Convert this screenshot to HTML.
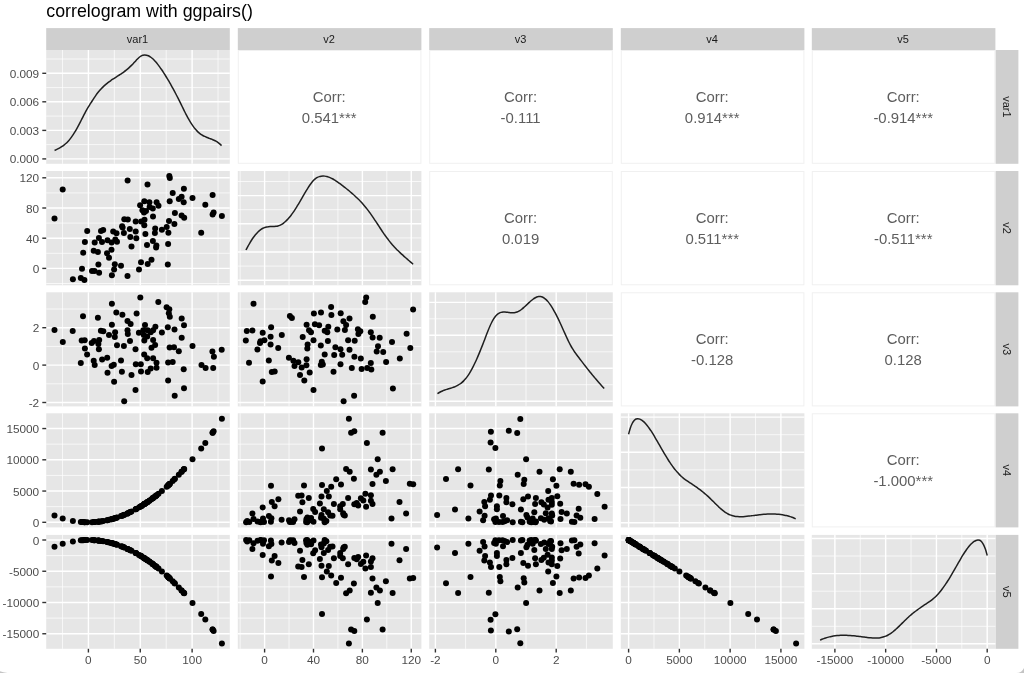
<!DOCTYPE html>
<html lang="en"><head><meta charset="utf-8"><title>correlogram with ggpairs()</title>
<style>html,body{margin:0;padding:0;background:#fff;}svg{display:block;}</style></head>
<body>
<svg width="1024" height="673" viewBox="0 0 1024 673" font-family="'Liberation Sans', Arial, Helvetica, sans-serif">
<rect width="1024" height="673" fill="#ffffff"/>
<path d="M1024 673 L1024 668 A8.5 8.5 0 0 1 1016.5 673 Z" fill="#c4c4c4"/>
<path d="M0 673 L0 671.2 Q3 672.5 7.5 673 Z" fill="#c4c4c4"/>
<text x="46.3" y="17.2" font-size="17.8" fill="#000">correlogram with ggpairs()</text>
<rect x="46.20" y="28.1" width="183.6" height="21.90" fill="#cfcfcf"/>
<text x="137.50" y="43.0" font-size="11.0" fill="#1a1a1a" text-anchor="middle">var1</text>
<rect x="237.80" y="28.1" width="183.6" height="21.90" fill="#cfcfcf"/>
<text x="329.10" y="43.0" font-size="11.0" fill="#1a1a1a" text-anchor="middle">v2</text>
<rect x="429.20" y="28.1" width="183.6" height="21.90" fill="#cfcfcf"/>
<text x="520.50" y="43.0" font-size="11.0" fill="#1a1a1a" text-anchor="middle">v3</text>
<rect x="620.80" y="28.1" width="183.6" height="21.90" fill="#cfcfcf"/>
<text x="712.10" y="43.0" font-size="11.0" fill="#1a1a1a" text-anchor="middle">v4</text>
<rect x="811.80" y="28.1" width="183.6" height="21.90" fill="#cfcfcf"/>
<text x="903.10" y="43.0" font-size="11.0" fill="#1a1a1a" text-anchor="middle">v5</text>
<rect x="995.5" y="50.0" width="22.90" height="113.80" fill="#cfcfcf"/>
<text transform="translate(1003.05,106.90) rotate(90)" font-size="11.0" fill="#1a1a1a" text-anchor="middle">var1</text>
<rect x="995.5" y="171.0" width="22.90" height="114.30" fill="#cfcfcf"/>
<text transform="translate(1003.05,228.15) rotate(90)" font-size="11.0" fill="#1a1a1a" text-anchor="middle">v2</text>
<rect x="995.5" y="292.3" width="22.90" height="114.10" fill="#cfcfcf"/>
<text transform="translate(1003.05,349.35) rotate(90)" font-size="11.0" fill="#1a1a1a" text-anchor="middle">v3</text>
<rect x="995.5" y="413.3" width="22.90" height="114.10" fill="#cfcfcf"/>
<text transform="translate(1003.05,470.35) rotate(90)" font-size="11.0" fill="#1a1a1a" text-anchor="middle">v4</text>
<rect x="995.5" y="534.9" width="22.90" height="113.90" fill="#cfcfcf"/>
<text transform="translate(1003.05,591.85) rotate(90)" font-size="11.0" fill="#1a1a1a" text-anchor="middle">v5</text>
<rect x="46.20" y="50.00" width="183.60" height="113.80" fill="#e6e6e6"/>
<g stroke="#ffffff"><line x1="62.47" y1="50.00" x2="62.47" y2="163.80" stroke-width="0.7"/><line x1="114.33" y1="50.00" x2="114.33" y2="163.80" stroke-width="0.7"/><line x1="166.19" y1="50.00" x2="166.19" y2="163.80" stroke-width="0.7"/><line x1="218.05" y1="50.00" x2="218.05" y2="163.80" stroke-width="0.7"/><line x1="46.20" y1="144.60" x2="229.80" y2="144.60" stroke-width="0.7"/><line x1="46.20" y1="116.10" x2="229.80" y2="116.10" stroke-width="0.7"/><line x1="46.20" y1="87.60" x2="229.80" y2="87.60" stroke-width="0.7"/><line x1="46.20" y1="59.00" x2="229.80" y2="59.00" stroke-width="0.7"/><line x1="88.40" y1="50.00" x2="88.40" y2="163.80" stroke-width="1.4"/><line x1="140.26" y1="50.00" x2="140.26" y2="163.80" stroke-width="1.4"/><line x1="192.12" y1="50.00" x2="192.12" y2="163.80" stroke-width="1.4"/><line x1="46.20" y1="158.90" x2="229.80" y2="158.90" stroke-width="1.4"/><line x1="46.20" y1="130.40" x2="229.80" y2="130.40" stroke-width="1.4"/><line x1="46.20" y1="101.80" x2="229.80" y2="101.80" stroke-width="1.4"/><line x1="46.20" y1="73.30" x2="229.80" y2="73.30" stroke-width="1.4"/></g>
<rect x="238.30" y="50.50" width="182.60" height="112.80" fill="#fff" stroke="#f0f0f0" stroke-width="1"/>
<text x="329.20" y="102.00" font-size="14.9" fill="#5e5e5e" text-anchor="middle">Corr:</text>
<text x="329.20" y="122.50" font-size="14.9" fill="#5e5e5e" text-anchor="middle">0.541***</text>
<rect x="429.70" y="50.50" width="182.60" height="112.80" fill="#fff" stroke="#f0f0f0" stroke-width="1"/>
<text x="520.60" y="102.00" font-size="14.9" fill="#5e5e5e" text-anchor="middle">Corr:</text>
<text x="520.60" y="122.50" font-size="14.9" fill="#5e5e5e" text-anchor="middle">-0.111</text>
<rect x="621.30" y="50.50" width="182.60" height="112.80" fill="#fff" stroke="#f0f0f0" stroke-width="1"/>
<text x="712.20" y="102.00" font-size="14.9" fill="#5e5e5e" text-anchor="middle">Corr:</text>
<text x="712.20" y="122.50" font-size="14.9" fill="#5e5e5e" text-anchor="middle">0.914***</text>
<rect x="812.30" y="50.50" width="182.60" height="112.80" fill="#fff" stroke="#f0f0f0" stroke-width="1"/>
<text x="903.20" y="102.00" font-size="14.9" fill="#5e5e5e" text-anchor="middle">Corr:</text>
<text x="903.20" y="122.50" font-size="14.9" fill="#5e5e5e" text-anchor="middle">-0.914***</text>
<rect x="46.20" y="171.00" width="183.60" height="114.30" fill="#e6e6e6"/>
<g stroke="#ffffff"><line x1="62.47" y1="171.00" x2="62.47" y2="285.30" stroke-width="0.7"/><line x1="114.33" y1="171.00" x2="114.33" y2="285.30" stroke-width="0.7"/><line x1="166.19" y1="171.00" x2="166.19" y2="285.30" stroke-width="0.7"/><line x1="218.05" y1="171.00" x2="218.05" y2="285.30" stroke-width="0.7"/><line x1="46.20" y1="283.50" x2="229.80" y2="283.50" stroke-width="0.7"/><line x1="46.20" y1="253.30" x2="229.80" y2="253.30" stroke-width="0.7"/><line x1="46.20" y1="223.10" x2="229.80" y2="223.10" stroke-width="0.7"/><line x1="46.20" y1="192.90" x2="229.80" y2="192.90" stroke-width="0.7"/><line x1="88.40" y1="171.00" x2="88.40" y2="285.30" stroke-width="1.4"/><line x1="140.26" y1="171.00" x2="140.26" y2="285.30" stroke-width="1.4"/><line x1="192.12" y1="171.00" x2="192.12" y2="285.30" stroke-width="1.4"/><line x1="46.20" y1="268.40" x2="229.80" y2="268.40" stroke-width="1.4"/><line x1="46.20" y1="238.20" x2="229.80" y2="238.20" stroke-width="1.4"/><line x1="46.20" y1="208.00" x2="229.80" y2="208.00" stroke-width="1.4"/><line x1="46.20" y1="177.80" x2="229.80" y2="177.80" stroke-width="1.4"/></g>
<rect x="237.80" y="171.00" width="183.60" height="114.30" fill="#e6e6e6"/>
<g stroke="#ffffff"><line x1="240.16" y1="171.00" x2="240.16" y2="285.30" stroke-width="0.7"/><line x1="289.04" y1="171.00" x2="289.04" y2="285.30" stroke-width="0.7"/><line x1="337.93" y1="171.00" x2="337.93" y2="285.30" stroke-width="0.7"/><line x1="386.82" y1="171.00" x2="386.82" y2="285.30" stroke-width="0.7"/><line x1="237.80" y1="181.50" x2="421.40" y2="181.50" stroke-width="0.7"/><line x1="237.80" y1="209.70" x2="421.40" y2="209.70" stroke-width="0.7"/><line x1="237.80" y1="237.90" x2="421.40" y2="237.90" stroke-width="0.7"/><line x1="237.80" y1="266.10" x2="421.40" y2="266.10" stroke-width="0.7"/><line x1="264.60" y1="171.00" x2="264.60" y2="285.30" stroke-width="1.4"/><line x1="313.49" y1="171.00" x2="313.49" y2="285.30" stroke-width="1.4"/><line x1="362.38" y1="171.00" x2="362.38" y2="285.30" stroke-width="1.4"/><line x1="411.26" y1="171.00" x2="411.26" y2="285.30" stroke-width="1.4"/><line x1="237.80" y1="195.60" x2="421.40" y2="195.60" stroke-width="1.4"/><line x1="237.80" y1="223.80" x2="421.40" y2="223.80" stroke-width="1.4"/><line x1="237.80" y1="252.00" x2="421.40" y2="252.00" stroke-width="1.4"/><line x1="237.80" y1="280.20" x2="421.40" y2="280.20" stroke-width="1.4"/></g>
<rect x="429.70" y="171.50" width="182.60" height="113.30" fill="#fff" stroke="#f0f0f0" stroke-width="1"/>
<text x="520.60" y="223.25" font-size="14.9" fill="#5e5e5e" text-anchor="middle">Corr:</text>
<text x="520.60" y="243.75" font-size="14.9" fill="#5e5e5e" text-anchor="middle">0.019</text>
<rect x="621.30" y="171.50" width="182.60" height="113.30" fill="#fff" stroke="#f0f0f0" stroke-width="1"/>
<text x="712.20" y="223.25" font-size="14.9" fill="#5e5e5e" text-anchor="middle">Corr:</text>
<text x="712.20" y="243.75" font-size="14.9" fill="#5e5e5e" text-anchor="middle">0.511***</text>
<rect x="812.30" y="171.50" width="182.60" height="113.30" fill="#fff" stroke="#f0f0f0" stroke-width="1"/>
<text x="903.20" y="223.25" font-size="14.9" fill="#5e5e5e" text-anchor="middle">Corr:</text>
<text x="903.20" y="243.75" font-size="14.9" fill="#5e5e5e" text-anchor="middle">-0.511***</text>
<rect x="46.20" y="292.30" width="183.60" height="114.10" fill="#e6e6e6"/>
<g stroke="#ffffff"><line x1="62.47" y1="292.30" x2="62.47" y2="406.40" stroke-width="0.7"/><line x1="114.33" y1="292.30" x2="114.33" y2="406.40" stroke-width="0.7"/><line x1="166.19" y1="292.30" x2="166.19" y2="406.40" stroke-width="0.7"/><line x1="218.05" y1="292.30" x2="218.05" y2="406.40" stroke-width="0.7"/><line x1="46.20" y1="383.80" x2="229.80" y2="383.80" stroke-width="0.7"/><line x1="46.20" y1="346.40" x2="229.80" y2="346.40" stroke-width="0.7"/><line x1="46.20" y1="309.00" x2="229.80" y2="309.00" stroke-width="0.7"/><line x1="88.40" y1="292.30" x2="88.40" y2="406.40" stroke-width="1.4"/><line x1="140.26" y1="292.30" x2="140.26" y2="406.40" stroke-width="1.4"/><line x1="192.12" y1="292.30" x2="192.12" y2="406.40" stroke-width="1.4"/><line x1="46.20" y1="402.50" x2="229.80" y2="402.50" stroke-width="1.4"/><line x1="46.20" y1="365.10" x2="229.80" y2="365.10" stroke-width="1.4"/><line x1="46.20" y1="327.70" x2="229.80" y2="327.70" stroke-width="1.4"/></g>
<rect x="237.80" y="292.30" width="183.60" height="114.10" fill="#e6e6e6"/>
<g stroke="#ffffff"><line x1="240.16" y1="292.30" x2="240.16" y2="406.40" stroke-width="0.7"/><line x1="289.04" y1="292.30" x2="289.04" y2="406.40" stroke-width="0.7"/><line x1="337.93" y1="292.30" x2="337.93" y2="406.40" stroke-width="0.7"/><line x1="386.82" y1="292.30" x2="386.82" y2="406.40" stroke-width="0.7"/><line x1="237.80" y1="383.80" x2="421.40" y2="383.80" stroke-width="0.7"/><line x1="237.80" y1="346.40" x2="421.40" y2="346.40" stroke-width="0.7"/><line x1="237.80" y1="309.00" x2="421.40" y2="309.00" stroke-width="0.7"/><line x1="264.60" y1="292.30" x2="264.60" y2="406.40" stroke-width="1.4"/><line x1="313.49" y1="292.30" x2="313.49" y2="406.40" stroke-width="1.4"/><line x1="362.38" y1="292.30" x2="362.38" y2="406.40" stroke-width="1.4"/><line x1="411.26" y1="292.30" x2="411.26" y2="406.40" stroke-width="1.4"/><line x1="237.80" y1="402.50" x2="421.40" y2="402.50" stroke-width="1.4"/><line x1="237.80" y1="365.10" x2="421.40" y2="365.10" stroke-width="1.4"/><line x1="237.80" y1="327.70" x2="421.40" y2="327.70" stroke-width="1.4"/></g>
<rect x="429.20" y="292.30" width="183.60" height="114.10" fill="#e6e6e6"/>
<g stroke="#ffffff"><line x1="465.60" y1="292.30" x2="465.60" y2="406.40" stroke-width="0.7"/><line x1="526.00" y1="292.30" x2="526.00" y2="406.40" stroke-width="0.7"/><line x1="586.40" y1="292.30" x2="586.40" y2="406.40" stroke-width="0.7"/><line x1="429.20" y1="318.80" x2="612.80" y2="318.80" stroke-width="0.7"/><line x1="429.20" y1="351.80" x2="612.80" y2="351.80" stroke-width="0.7"/><line x1="429.20" y1="384.70" x2="612.80" y2="384.70" stroke-width="0.7"/><line x1="435.40" y1="292.30" x2="435.40" y2="406.40" stroke-width="1.4"/><line x1="495.80" y1="292.30" x2="495.80" y2="406.40" stroke-width="1.4"/><line x1="556.20" y1="292.30" x2="556.20" y2="406.40" stroke-width="1.4"/><line x1="429.20" y1="302.40" x2="612.80" y2="302.40" stroke-width="1.4"/><line x1="429.20" y1="335.30" x2="612.80" y2="335.30" stroke-width="1.4"/><line x1="429.20" y1="368.30" x2="612.80" y2="368.30" stroke-width="1.4"/><line x1="429.20" y1="401.20" x2="612.80" y2="401.20" stroke-width="1.4"/></g>
<rect x="621.30" y="292.80" width="182.60" height="113.10" fill="#fff" stroke="#f0f0f0" stroke-width="1"/>
<text x="712.20" y="344.45" font-size="14.9" fill="#5e5e5e" text-anchor="middle">Corr:</text>
<text x="712.20" y="364.95" font-size="14.9" fill="#5e5e5e" text-anchor="middle">-0.128</text>
<rect x="812.30" y="292.80" width="182.60" height="113.10" fill="#fff" stroke="#f0f0f0" stroke-width="1"/>
<text x="903.20" y="344.45" font-size="14.9" fill="#5e5e5e" text-anchor="middle">Corr:</text>
<text x="903.20" y="364.95" font-size="14.9" fill="#5e5e5e" text-anchor="middle">0.128</text>
<rect x="46.20" y="413.30" width="183.60" height="114.10" fill="#e6e6e6"/>
<g stroke="#ffffff"><line x1="62.47" y1="413.30" x2="62.47" y2="527.40" stroke-width="0.7"/><line x1="114.33" y1="413.30" x2="114.33" y2="527.40" stroke-width="0.7"/><line x1="166.19" y1="413.30" x2="166.19" y2="527.40" stroke-width="0.7"/><line x1="218.05" y1="413.30" x2="218.05" y2="527.40" stroke-width="0.7"/><line x1="46.20" y1="506.67" x2="229.80" y2="506.67" stroke-width="0.7"/><line x1="46.20" y1="475.42" x2="229.80" y2="475.42" stroke-width="0.7"/><line x1="46.20" y1="444.17" x2="229.80" y2="444.17" stroke-width="0.7"/><line x1="88.40" y1="413.30" x2="88.40" y2="527.40" stroke-width="1.4"/><line x1="140.26" y1="413.30" x2="140.26" y2="527.40" stroke-width="1.4"/><line x1="192.12" y1="413.30" x2="192.12" y2="527.40" stroke-width="1.4"/><line x1="46.20" y1="522.30" x2="229.80" y2="522.30" stroke-width="1.4"/><line x1="46.20" y1="491.05" x2="229.80" y2="491.05" stroke-width="1.4"/><line x1="46.20" y1="459.80" x2="229.80" y2="459.80" stroke-width="1.4"/><line x1="46.20" y1="428.55" x2="229.80" y2="428.55" stroke-width="1.4"/></g>
<rect x="237.80" y="413.30" width="183.60" height="114.10" fill="#e6e6e6"/>
<g stroke="#ffffff"><line x1="240.16" y1="413.30" x2="240.16" y2="527.40" stroke-width="0.7"/><line x1="289.04" y1="413.30" x2="289.04" y2="527.40" stroke-width="0.7"/><line x1="337.93" y1="413.30" x2="337.93" y2="527.40" stroke-width="0.7"/><line x1="386.82" y1="413.30" x2="386.82" y2="527.40" stroke-width="0.7"/><line x1="237.80" y1="506.67" x2="421.40" y2="506.67" stroke-width="0.7"/><line x1="237.80" y1="475.42" x2="421.40" y2="475.42" stroke-width="0.7"/><line x1="237.80" y1="444.17" x2="421.40" y2="444.17" stroke-width="0.7"/><line x1="264.60" y1="413.30" x2="264.60" y2="527.40" stroke-width="1.4"/><line x1="313.49" y1="413.30" x2="313.49" y2="527.40" stroke-width="1.4"/><line x1="362.38" y1="413.30" x2="362.38" y2="527.40" stroke-width="1.4"/><line x1="411.26" y1="413.30" x2="411.26" y2="527.40" stroke-width="1.4"/><line x1="237.80" y1="522.30" x2="421.40" y2="522.30" stroke-width="1.4"/><line x1="237.80" y1="491.05" x2="421.40" y2="491.05" stroke-width="1.4"/><line x1="237.80" y1="459.80" x2="421.40" y2="459.80" stroke-width="1.4"/><line x1="237.80" y1="428.55" x2="421.40" y2="428.55" stroke-width="1.4"/></g>
<rect x="429.20" y="413.30" width="183.60" height="114.10" fill="#e6e6e6"/>
<g stroke="#ffffff"><line x1="465.60" y1="413.30" x2="465.60" y2="527.40" stroke-width="0.7"/><line x1="526.00" y1="413.30" x2="526.00" y2="527.40" stroke-width="0.7"/><line x1="586.40" y1="413.30" x2="586.40" y2="527.40" stroke-width="0.7"/><line x1="429.20" y1="506.67" x2="612.80" y2="506.67" stroke-width="0.7"/><line x1="429.20" y1="475.42" x2="612.80" y2="475.42" stroke-width="0.7"/><line x1="429.20" y1="444.17" x2="612.80" y2="444.17" stroke-width="0.7"/><line x1="435.40" y1="413.30" x2="435.40" y2="527.40" stroke-width="1.4"/><line x1="495.80" y1="413.30" x2="495.80" y2="527.40" stroke-width="1.4"/><line x1="556.20" y1="413.30" x2="556.20" y2="527.40" stroke-width="1.4"/><line x1="429.20" y1="522.30" x2="612.80" y2="522.30" stroke-width="1.4"/><line x1="429.20" y1="491.05" x2="612.80" y2="491.05" stroke-width="1.4"/><line x1="429.20" y1="459.80" x2="612.80" y2="459.80" stroke-width="1.4"/><line x1="429.20" y1="428.55" x2="612.80" y2="428.55" stroke-width="1.4"/></g>
<rect x="620.80" y="413.30" width="183.60" height="114.10" fill="#e6e6e6"/>
<g stroke="#ffffff"><line x1="653.99" y1="413.30" x2="653.99" y2="527.40" stroke-width="0.7"/><line x1="704.75" y1="413.30" x2="704.75" y2="527.40" stroke-width="0.7"/><line x1="755.52" y1="413.30" x2="755.52" y2="527.40" stroke-width="0.7"/><line x1="620.80" y1="434.70" x2="804.40" y2="434.70" stroke-width="0.7"/><line x1="620.80" y1="469.90" x2="804.40" y2="469.90" stroke-width="0.7"/><line x1="620.80" y1="505.10" x2="804.40" y2="505.10" stroke-width="0.7"/><line x1="628.60" y1="413.30" x2="628.60" y2="527.40" stroke-width="1.4"/><line x1="679.37" y1="413.30" x2="679.37" y2="527.40" stroke-width="1.4"/><line x1="730.14" y1="413.30" x2="730.14" y2="527.40" stroke-width="1.4"/><line x1="780.91" y1="413.30" x2="780.91" y2="527.40" stroke-width="1.4"/><line x1="620.80" y1="417.10" x2="804.40" y2="417.10" stroke-width="1.4"/><line x1="620.80" y1="452.30" x2="804.40" y2="452.30" stroke-width="1.4"/><line x1="620.80" y1="487.50" x2="804.40" y2="487.50" stroke-width="1.4"/><line x1="620.80" y1="522.70" x2="804.40" y2="522.70" stroke-width="1.4"/></g>
<rect x="812.30" y="413.80" width="182.60" height="113.10" fill="#fff" stroke="#f0f0f0" stroke-width="1"/>
<text x="903.20" y="465.45" font-size="14.9" fill="#5e5e5e" text-anchor="middle">Corr:</text>
<text x="903.20" y="485.95" font-size="14.9" fill="#5e5e5e" text-anchor="middle">-1.000***</text>
<rect x="46.20" y="534.90" width="183.60" height="113.90" fill="#e6e6e6"/>
<g stroke="#ffffff"><line x1="62.47" y1="534.90" x2="62.47" y2="648.80" stroke-width="0.7"/><line x1="114.33" y1="534.90" x2="114.33" y2="648.80" stroke-width="0.7"/><line x1="166.19" y1="534.90" x2="166.19" y2="648.80" stroke-width="0.7"/><line x1="218.05" y1="534.90" x2="218.05" y2="648.80" stroke-width="0.7"/><line x1="46.20" y1="618.12" x2="229.80" y2="618.12" stroke-width="0.7"/><line x1="46.20" y1="586.88" x2="229.80" y2="586.88" stroke-width="0.7"/><line x1="46.20" y1="555.62" x2="229.80" y2="555.62" stroke-width="0.7"/><line x1="88.40" y1="534.90" x2="88.40" y2="648.80" stroke-width="1.4"/><line x1="140.26" y1="534.90" x2="140.26" y2="648.80" stroke-width="1.4"/><line x1="192.12" y1="534.90" x2="192.12" y2="648.80" stroke-width="1.4"/><line x1="46.20" y1="633.75" x2="229.80" y2="633.75" stroke-width="1.4"/><line x1="46.20" y1="602.50" x2="229.80" y2="602.50" stroke-width="1.4"/><line x1="46.20" y1="571.25" x2="229.80" y2="571.25" stroke-width="1.4"/><line x1="46.20" y1="540.00" x2="229.80" y2="540.00" stroke-width="1.4"/></g>
<rect x="237.80" y="534.90" width="183.60" height="113.90" fill="#e6e6e6"/>
<g stroke="#ffffff"><line x1="240.16" y1="534.90" x2="240.16" y2="648.80" stroke-width="0.7"/><line x1="289.04" y1="534.90" x2="289.04" y2="648.80" stroke-width="0.7"/><line x1="337.93" y1="534.90" x2="337.93" y2="648.80" stroke-width="0.7"/><line x1="386.82" y1="534.90" x2="386.82" y2="648.80" stroke-width="0.7"/><line x1="237.80" y1="618.12" x2="421.40" y2="618.12" stroke-width="0.7"/><line x1="237.80" y1="586.88" x2="421.40" y2="586.88" stroke-width="0.7"/><line x1="237.80" y1="555.62" x2="421.40" y2="555.62" stroke-width="0.7"/><line x1="264.60" y1="534.90" x2="264.60" y2="648.80" stroke-width="1.4"/><line x1="313.49" y1="534.90" x2="313.49" y2="648.80" stroke-width="1.4"/><line x1="362.38" y1="534.90" x2="362.38" y2="648.80" stroke-width="1.4"/><line x1="411.26" y1="534.90" x2="411.26" y2="648.80" stroke-width="1.4"/><line x1="237.80" y1="633.75" x2="421.40" y2="633.75" stroke-width="1.4"/><line x1="237.80" y1="602.50" x2="421.40" y2="602.50" stroke-width="1.4"/><line x1="237.80" y1="571.25" x2="421.40" y2="571.25" stroke-width="1.4"/><line x1="237.80" y1="540.00" x2="421.40" y2="540.00" stroke-width="1.4"/></g>
<rect x="429.20" y="534.90" width="183.60" height="113.90" fill="#e6e6e6"/>
<g stroke="#ffffff"><line x1="465.60" y1="534.90" x2="465.60" y2="648.80" stroke-width="0.7"/><line x1="526.00" y1="534.90" x2="526.00" y2="648.80" stroke-width="0.7"/><line x1="586.40" y1="534.90" x2="586.40" y2="648.80" stroke-width="0.7"/><line x1="429.20" y1="618.12" x2="612.80" y2="618.12" stroke-width="0.7"/><line x1="429.20" y1="586.88" x2="612.80" y2="586.88" stroke-width="0.7"/><line x1="429.20" y1="555.62" x2="612.80" y2="555.62" stroke-width="0.7"/><line x1="435.40" y1="534.90" x2="435.40" y2="648.80" stroke-width="1.4"/><line x1="495.80" y1="534.90" x2="495.80" y2="648.80" stroke-width="1.4"/><line x1="556.20" y1="534.90" x2="556.20" y2="648.80" stroke-width="1.4"/><line x1="429.20" y1="633.75" x2="612.80" y2="633.75" stroke-width="1.4"/><line x1="429.20" y1="602.50" x2="612.80" y2="602.50" stroke-width="1.4"/><line x1="429.20" y1="571.25" x2="612.80" y2="571.25" stroke-width="1.4"/><line x1="429.20" y1="540.00" x2="612.80" y2="540.00" stroke-width="1.4"/></g>
<rect x="620.80" y="534.90" width="183.60" height="113.90" fill="#e6e6e6"/>
<g stroke="#ffffff"><line x1="653.99" y1="534.90" x2="653.99" y2="648.80" stroke-width="0.7"/><line x1="704.75" y1="534.90" x2="704.75" y2="648.80" stroke-width="0.7"/><line x1="755.52" y1="534.90" x2="755.52" y2="648.80" stroke-width="0.7"/><line x1="620.80" y1="618.12" x2="804.40" y2="618.12" stroke-width="0.7"/><line x1="620.80" y1="586.88" x2="804.40" y2="586.88" stroke-width="0.7"/><line x1="620.80" y1="555.62" x2="804.40" y2="555.62" stroke-width="0.7"/><line x1="628.60" y1="534.90" x2="628.60" y2="648.80" stroke-width="1.4"/><line x1="679.37" y1="534.90" x2="679.37" y2="648.80" stroke-width="1.4"/><line x1="730.14" y1="534.90" x2="730.14" y2="648.80" stroke-width="1.4"/><line x1="780.91" y1="534.90" x2="780.91" y2="648.80" stroke-width="1.4"/><line x1="620.80" y1="633.75" x2="804.40" y2="633.75" stroke-width="1.4"/><line x1="620.80" y1="602.50" x2="804.40" y2="602.50" stroke-width="1.4"/><line x1="620.80" y1="571.25" x2="804.40" y2="571.25" stroke-width="1.4"/><line x1="620.80" y1="540.00" x2="804.40" y2="540.00" stroke-width="1.4"/></g>
<rect x="811.80" y="534.90" width="183.60" height="113.90" fill="#e6e6e6"/>
<g stroke="#ffffff"><line x1="860.28" y1="534.90" x2="860.28" y2="648.80" stroke-width="0.7"/><line x1="911.05" y1="534.90" x2="911.05" y2="648.80" stroke-width="0.7"/><line x1="961.82" y1="534.90" x2="961.82" y2="648.80" stroke-width="0.7"/><line x1="811.80" y1="556.00" x2="995.40" y2="556.00" stroke-width="0.7"/><line x1="811.80" y1="591.20" x2="995.40" y2="591.20" stroke-width="0.7"/><line x1="811.80" y1="626.30" x2="995.40" y2="626.30" stroke-width="0.7"/><line x1="834.89" y1="534.90" x2="834.89" y2="648.80" stroke-width="1.4"/><line x1="885.66" y1="534.90" x2="885.66" y2="648.80" stroke-width="1.4"/><line x1="936.43" y1="534.90" x2="936.43" y2="648.80" stroke-width="1.4"/><line x1="987.20" y1="534.90" x2="987.20" y2="648.80" stroke-width="1.4"/><line x1="811.80" y1="538.50" x2="995.40" y2="538.50" stroke-width="1.4"/><line x1="811.80" y1="573.60" x2="995.40" y2="573.60" stroke-width="1.4"/><line x1="811.80" y1="608.70" x2="995.40" y2="608.70" stroke-width="1.4"/><line x1="811.80" y1="643.80" x2="995.40" y2="643.80" stroke-width="1.4"/></g>
<line x1="88.40" y1="648.80" x2="88.40" y2="652.50" stroke="#333" stroke-width="1.4"/>
<text x="88.40" y="663.5" font-size="11.8" fill="#4d4d4d" text-anchor="middle">0</text>
<line x1="140.26" y1="648.80" x2="140.26" y2="652.50" stroke="#333" stroke-width="1.4"/>
<text x="140.26" y="663.5" font-size="11.8" fill="#4d4d4d" text-anchor="middle">50</text>
<line x1="192.12" y1="648.80" x2="192.12" y2="652.50" stroke="#333" stroke-width="1.4"/>
<text x="192.12" y="663.5" font-size="11.8" fill="#4d4d4d" text-anchor="middle">100</text>
<line x1="264.60" y1="648.80" x2="264.60" y2="652.50" stroke="#333" stroke-width="1.4"/>
<text x="264.60" y="663.5" font-size="11.8" fill="#4d4d4d" text-anchor="middle">0</text>
<line x1="313.49" y1="648.80" x2="313.49" y2="652.50" stroke="#333" stroke-width="1.4"/>
<text x="313.49" y="663.5" font-size="11.8" fill="#4d4d4d" text-anchor="middle">40</text>
<line x1="362.38" y1="648.80" x2="362.38" y2="652.50" stroke="#333" stroke-width="1.4"/>
<text x="362.38" y="663.5" font-size="11.8" fill="#4d4d4d" text-anchor="middle">80</text>
<line x1="411.26" y1="648.80" x2="411.26" y2="652.50" stroke="#333" stroke-width="1.4"/>
<text x="411.26" y="663.5" font-size="11.8" fill="#4d4d4d" text-anchor="middle">120</text>
<line x1="435.40" y1="648.80" x2="435.40" y2="652.50" stroke="#333" stroke-width="1.4"/>
<text x="435.40" y="663.5" font-size="11.8" fill="#4d4d4d" text-anchor="middle">-2</text>
<line x1="495.80" y1="648.80" x2="495.80" y2="652.50" stroke="#333" stroke-width="1.4"/>
<text x="495.80" y="663.5" font-size="11.8" fill="#4d4d4d" text-anchor="middle">0</text>
<line x1="556.20" y1="648.80" x2="556.20" y2="652.50" stroke="#333" stroke-width="1.4"/>
<text x="556.20" y="663.5" font-size="11.8" fill="#4d4d4d" text-anchor="middle">2</text>
<line x1="628.60" y1="648.80" x2="628.60" y2="652.50" stroke="#333" stroke-width="1.4"/>
<text x="628.60" y="663.5" font-size="11.8" fill="#4d4d4d" text-anchor="middle">0</text>
<line x1="679.37" y1="648.80" x2="679.37" y2="652.50" stroke="#333" stroke-width="1.4"/>
<text x="679.37" y="663.5" font-size="11.8" fill="#4d4d4d" text-anchor="middle">5000</text>
<line x1="730.14" y1="648.80" x2="730.14" y2="652.50" stroke="#333" stroke-width="1.4"/>
<text x="730.14" y="663.5" font-size="11.8" fill="#4d4d4d" text-anchor="middle">10000</text>
<line x1="780.91" y1="648.80" x2="780.91" y2="652.50" stroke="#333" stroke-width="1.4"/>
<text x="780.91" y="663.5" font-size="11.8" fill="#4d4d4d" text-anchor="middle">15000</text>
<line x1="834.89" y1="648.80" x2="834.89" y2="652.50" stroke="#333" stroke-width="1.4"/>
<text x="834.89" y="663.5" font-size="11.8" fill="#4d4d4d" text-anchor="middle">-15000</text>
<line x1="885.66" y1="648.80" x2="885.66" y2="652.50" stroke="#333" stroke-width="1.4"/>
<text x="885.66" y="663.5" font-size="11.8" fill="#4d4d4d" text-anchor="middle">-10000</text>
<line x1="936.43" y1="648.80" x2="936.43" y2="652.50" stroke="#333" stroke-width="1.4"/>
<text x="936.43" y="663.5" font-size="11.8" fill="#4d4d4d" text-anchor="middle">-5000</text>
<line x1="987.20" y1="648.80" x2="987.20" y2="652.50" stroke="#333" stroke-width="1.4"/>
<text x="987.20" y="663.5" font-size="11.8" fill="#4d4d4d" text-anchor="middle">0</text>
<line x1="42.30" y1="158.90" x2="46.20" y2="158.90" stroke="#333" stroke-width="1.4"/>
<text x="39.2" y="163.40" font-size="11.8" fill="#4d4d4d" text-anchor="end">0.000</text>
<line x1="42.30" y1="130.40" x2="46.20" y2="130.40" stroke="#333" stroke-width="1.4"/>
<text x="39.2" y="134.90" font-size="11.8" fill="#4d4d4d" text-anchor="end">0.003</text>
<line x1="42.30" y1="101.80" x2="46.20" y2="101.80" stroke="#333" stroke-width="1.4"/>
<text x="39.2" y="106.30" font-size="11.8" fill="#4d4d4d" text-anchor="end">0.006</text>
<line x1="42.30" y1="73.30" x2="46.20" y2="73.30" stroke="#333" stroke-width="1.4"/>
<text x="39.2" y="77.80" font-size="11.8" fill="#4d4d4d" text-anchor="end">0.009</text>
<line x1="42.30" y1="268.40" x2="46.20" y2="268.40" stroke="#333" stroke-width="1.4"/>
<text x="39.2" y="272.90" font-size="11.8" fill="#4d4d4d" text-anchor="end">0</text>
<line x1="42.30" y1="238.20" x2="46.20" y2="238.20" stroke="#333" stroke-width="1.4"/>
<text x="39.2" y="242.70" font-size="11.8" fill="#4d4d4d" text-anchor="end">40</text>
<line x1="42.30" y1="208.00" x2="46.20" y2="208.00" stroke="#333" stroke-width="1.4"/>
<text x="39.2" y="212.50" font-size="11.8" fill="#4d4d4d" text-anchor="end">80</text>
<line x1="42.30" y1="177.80" x2="46.20" y2="177.80" stroke="#333" stroke-width="1.4"/>
<text x="39.2" y="182.30" font-size="11.8" fill="#4d4d4d" text-anchor="end">120</text>
<line x1="42.30" y1="402.50" x2="46.20" y2="402.50" stroke="#333" stroke-width="1.4"/>
<text x="39.2" y="407.00" font-size="11.8" fill="#4d4d4d" text-anchor="end">-2</text>
<line x1="42.30" y1="365.10" x2="46.20" y2="365.10" stroke="#333" stroke-width="1.4"/>
<text x="39.2" y="369.60" font-size="11.8" fill="#4d4d4d" text-anchor="end">0</text>
<line x1="42.30" y1="327.70" x2="46.20" y2="327.70" stroke="#333" stroke-width="1.4"/>
<text x="39.2" y="332.20" font-size="11.8" fill="#4d4d4d" text-anchor="end">2</text>
<line x1="42.30" y1="522.30" x2="46.20" y2="522.30" stroke="#333" stroke-width="1.4"/>
<text x="39.2" y="526.80" font-size="11.8" fill="#4d4d4d" text-anchor="end">0</text>
<line x1="42.30" y1="491.05" x2="46.20" y2="491.05" stroke="#333" stroke-width="1.4"/>
<text x="39.2" y="495.55" font-size="11.8" fill="#4d4d4d" text-anchor="end">5000</text>
<line x1="42.30" y1="459.80" x2="46.20" y2="459.80" stroke="#333" stroke-width="1.4"/>
<text x="39.2" y="464.30" font-size="11.8" fill="#4d4d4d" text-anchor="end">10000</text>
<line x1="42.30" y1="428.55" x2="46.20" y2="428.55" stroke="#333" stroke-width="1.4"/>
<text x="39.2" y="433.05" font-size="11.8" fill="#4d4d4d" text-anchor="end">15000</text>
<line x1="42.30" y1="633.75" x2="46.20" y2="633.75" stroke="#333" stroke-width="1.4"/>
<text x="39.2" y="638.25" font-size="11.8" fill="#4d4d4d" text-anchor="end">-15000</text>
<line x1="42.30" y1="602.50" x2="46.20" y2="602.50" stroke="#333" stroke-width="1.4"/>
<text x="39.2" y="607.00" font-size="11.8" fill="#4d4d4d" text-anchor="end">-10000</text>
<line x1="42.30" y1="571.25" x2="46.20" y2="571.25" stroke="#333" stroke-width="1.4"/>
<text x="39.2" y="575.75" font-size="11.8" fill="#4d4d4d" text-anchor="end">-5000</text>
<line x1="42.30" y1="540.00" x2="46.20" y2="540.00" stroke="#333" stroke-width="1.4"/>
<text x="39.2" y="544.50" font-size="11.8" fill="#4d4d4d" text-anchor="end">0</text>
<path d="M54.59 150.54C54.90 150.38 55.84 149.90 56.46 149.58C57.09 149.26 57.71 148.94 58.34 148.61C58.97 148.27 59.59 147.93 60.22 147.57C60.84 147.20 61.47 146.83 62.09 146.41C62.72 146.00 63.34 145.57 63.97 145.09C64.59 144.62 65.22 144.11 65.84 143.56C66.47 143.00 67.09 142.41 67.72 141.75C68.35 141.10 68.97 140.40 69.60 139.63C70.22 138.87 70.85 138.04 71.47 137.17C72.10 136.29 72.72 135.35 73.35 134.38C73.97 133.41 74.60 132.38 75.22 131.33C75.85 130.27 76.47 129.17 77.10 128.05C77.73 126.93 78.35 125.77 78.98 124.59C79.60 123.42 80.23 122.21 80.85 121.00C81.48 119.79 82.10 118.55 82.73 117.33C83.35 116.11 83.98 114.87 84.60 113.68C85.23 112.49 85.85 111.31 86.48 110.19C87.10 109.07 87.73 108.01 88.36 106.97C88.98 105.92 89.61 104.94 90.23 103.94C90.86 102.94 91.48 101.94 92.11 100.97C92.73 99.99 93.36 99.02 93.98 98.09C94.61 97.15 95.23 96.23 95.86 95.36C96.48 94.48 97.11 93.64 97.74 92.83C98.36 92.03 98.99 91.28 99.61 90.55C100.24 89.82 100.86 89.14 101.49 88.48C102.11 87.82 102.74 87.20 103.36 86.60C103.99 86.00 104.61 85.43 105.24 84.89C105.86 84.34 106.49 83.82 107.12 83.32C107.74 82.82 108.37 82.34 108.99 81.87C109.62 81.40 110.24 80.96 110.87 80.52C111.49 80.08 112.12 79.66 112.74 79.24C113.37 78.82 113.99 78.42 114.62 78.01C115.24 77.61 115.87 77.21 116.50 76.81C117.12 76.41 117.75 76.01 118.37 75.61C119.00 75.20 119.62 74.80 120.25 74.39C120.87 73.97 121.50 73.55 122.12 73.12C122.75 72.68 123.37 72.24 124.00 71.78C124.62 71.32 125.25 70.85 125.87 70.36C126.50 69.87 127.13 69.36 127.75 68.83C128.38 68.30 129.00 67.75 129.63 67.18C130.25 66.61 130.88 66.02 131.50 65.40C132.13 64.78 132.75 64.14 133.38 63.47C134.00 62.80 134.63 62.08 135.25 61.39C135.88 60.69 136.51 59.96 137.13 59.30C137.76 58.64 138.38 57.98 139.01 57.45C139.63 56.91 140.26 56.43 140.88 56.06C141.51 55.70 142.13 55.43 142.76 55.24C143.38 55.06 144.01 54.97 144.63 54.95C145.26 54.94 145.89 55.01 146.51 55.15C147.14 55.29 147.76 55.51 148.39 55.79C149.01 56.08 149.64 56.44 150.26 56.85C150.89 57.26 151.51 57.74 152.14 58.27C152.76 58.80 153.39 59.39 154.01 60.02C154.64 60.65 155.26 61.33 155.89 62.05C156.52 62.77 157.14 63.54 157.77 64.34C158.39 65.13 159.02 65.97 159.64 66.83C160.27 67.69 160.89 68.58 161.52 69.49C162.14 70.40 162.77 71.33 163.39 72.29C164.02 73.25 164.64 74.23 165.27 75.23C165.90 76.23 166.52 77.25 167.15 78.30C167.77 79.34 168.40 80.40 169.02 81.48C169.65 82.56 170.27 83.66 170.90 84.77C171.52 85.89 172.15 87.02 172.77 88.17C173.40 89.32 174.02 90.48 174.65 91.66C175.28 92.84 175.90 94.03 176.53 95.24C177.15 96.44 177.78 97.67 178.40 98.90C179.03 100.14 179.65 101.39 180.28 102.66C180.90 103.92 181.53 105.21 182.15 106.48C182.78 107.76 183.40 109.06 184.03 110.33C184.66 111.59 185.28 112.86 185.91 114.08C186.53 115.29 187.16 116.49 187.78 117.63C188.41 118.76 189.03 119.86 189.66 120.91C190.28 121.96 190.91 122.96 191.53 123.91C192.16 124.86 192.78 125.77 193.41 126.62C194.03 127.47 194.66 128.27 195.29 129.02C195.91 129.77 196.54 130.47 197.16 131.11C197.79 131.75 198.41 132.34 199.04 132.87C199.66 133.40 200.29 133.87 200.91 134.31C201.54 134.74 202.16 135.12 202.79 135.48C203.41 135.84 204.04 136.15 204.67 136.44C205.29 136.74 205.92 137.00 206.54 137.26C207.17 137.51 207.79 137.74 208.42 137.98C209.04 138.22 209.67 138.44 210.29 138.68C210.92 138.91 211.54 139.15 212.17 139.40C212.79 139.66 213.42 139.92 214.05 140.22C214.67 140.52 215.30 140.83 215.92 141.19C216.55 141.54 217.17 141.93 217.80 142.36C218.42 142.80 219.05 143.27 219.67 143.81C220.30 144.35 221.24 145.29 221.55 145.59" fill="none" stroke="#1f1f1f" stroke-width="1.5" stroke-linejoin="round" stroke-linecap="butt"/>
<path d="M246.02 249.99C246.33 249.39 247.27 247.53 247.90 246.38C248.52 245.22 249.15 244.10 249.78 243.04C250.40 241.98 251.03 240.96 251.65 240.00C252.28 239.03 252.91 238.11 253.53 237.25C254.16 236.38 254.78 235.57 255.41 234.80C256.04 234.04 256.66 233.33 257.29 232.67C257.91 232.01 258.54 231.41 259.17 230.86C259.79 230.31 260.42 229.81 261.04 229.38C261.67 228.94 262.30 228.55 262.92 228.23C263.55 227.90 264.18 227.64 264.80 227.42C265.43 227.21 266.05 227.06 266.68 226.94C267.31 226.81 267.93 226.75 268.56 226.69C269.18 226.63 269.81 226.62 270.44 226.60C271.06 226.58 271.69 226.58 272.31 226.57C272.94 226.55 273.57 226.55 274.19 226.51C274.82 226.48 275.44 226.44 276.07 226.35C276.70 226.26 277.32 226.15 277.95 225.98C278.57 225.81 279.20 225.60 279.83 225.33C280.45 225.06 281.08 224.73 281.70 224.35C282.33 223.97 282.96 223.54 283.58 223.06C284.21 222.58 284.84 222.05 285.46 221.48C286.09 220.90 286.71 220.28 287.34 219.62C287.97 218.96 288.59 218.25 289.22 217.51C289.84 216.77 290.47 215.99 291.10 215.17C291.72 214.36 292.35 213.50 292.97 212.62C293.60 211.74 294.23 210.82 294.85 209.88C295.48 208.94 296.10 207.96 296.73 206.96C297.36 205.97 297.98 204.94 298.61 203.90C299.23 202.85 299.86 201.78 300.49 200.70C301.11 199.62 301.74 198.51 302.36 197.41C302.99 196.32 303.62 195.21 304.24 194.12C304.87 193.04 305.49 191.95 306.12 190.91C306.75 189.86 307.37 188.82 308.00 187.84C308.63 186.85 309.25 185.89 309.88 185.00C310.50 184.10 311.13 183.24 311.76 182.46C312.38 181.68 313.01 180.96 313.63 180.32C314.26 179.68 314.89 179.11 315.51 178.63C316.14 178.14 316.76 177.74 317.39 177.40C318.02 177.06 318.64 176.80 319.27 176.59C319.89 176.38 320.52 176.24 321.15 176.14C321.77 176.05 322.40 176.01 323.02 176.01C323.65 176.00 324.28 176.05 324.90 176.13C325.53 176.22 326.15 176.34 326.78 176.50C327.41 176.66 328.03 176.85 328.66 177.08C329.29 177.30 329.91 177.56 330.54 177.84C331.16 178.13 331.79 178.44 332.42 178.78C333.04 179.11 333.67 179.47 334.29 179.85C334.92 180.23 335.55 180.63 336.17 181.04C336.80 181.46 337.42 181.89 338.05 182.33C338.68 182.78 339.30 183.23 339.93 183.70C340.55 184.16 341.18 184.63 341.81 185.11C342.43 185.58 343.06 186.06 343.68 186.55C344.31 187.03 344.94 187.51 345.56 188.00C346.19 188.50 346.81 188.99 347.44 189.49C348.07 190.00 348.69 190.50 349.32 191.02C349.94 191.54 350.57 192.06 351.20 192.60C351.82 193.13 352.45 193.67 353.08 194.23C353.70 194.78 354.33 195.35 354.95 195.93C355.58 196.50 356.21 197.09 356.83 197.70C357.46 198.30 358.08 198.92 358.71 199.55C359.34 200.18 359.96 200.83 360.59 201.50C361.21 202.16 361.84 202.84 362.47 203.54C363.09 204.24 363.72 204.96 364.34 205.70C364.97 206.44 365.60 207.19 366.22 207.97C366.85 208.75 367.47 209.55 368.10 210.38C368.73 211.20 369.35 212.05 369.98 212.91C370.60 213.78 371.23 214.67 371.86 215.58C372.48 216.48 373.11 217.40 373.73 218.33C374.36 219.27 374.99 220.21 375.61 221.16C376.24 222.11 376.87 223.07 377.49 224.03C378.12 224.98 378.74 225.94 379.37 226.90C380.00 227.85 380.62 228.81 381.25 229.75C381.87 230.69 382.50 231.63 383.13 232.55C383.75 233.47 384.38 234.38 385.00 235.27C385.63 236.16 386.26 237.04 386.88 237.89C387.51 238.73 388.13 239.56 388.76 240.36C389.39 241.16 390.01 241.94 390.64 242.69C391.26 243.45 391.89 244.18 392.52 244.89C393.14 245.61 393.77 246.30 394.39 246.98C395.02 247.65 395.65 248.31 396.27 248.95C396.90 249.60 397.53 250.23 398.15 250.84C398.78 251.46 399.40 252.06 400.03 252.65C400.66 253.25 401.28 253.83 401.91 254.40C402.53 254.97 403.16 255.54 403.79 256.10C404.41 256.66 405.04 257.21 405.66 257.76C406.29 258.30 406.92 258.85 407.54 259.39C408.17 259.93 408.79 260.47 409.42 261.01C410.05 261.55 410.67 262.09 411.30 262.64C411.92 263.18 412.86 264.01 413.18 264.28" fill="none" stroke="#1f1f1f" stroke-width="1.5" stroke-linejoin="round" stroke-linecap="butt"/>
<path d="M437.43 393.71C437.74 393.50 438.68 392.86 439.31 392.50C439.93 392.13 440.55 391.80 441.18 391.50C441.80 391.19 442.43 390.93 443.05 390.67C443.68 390.42 444.30 390.19 444.93 389.98C445.55 389.76 446.18 389.56 446.80 389.37C447.42 389.17 448.05 388.99 448.67 388.80C449.30 388.62 449.92 388.44 450.55 388.24C451.17 388.05 451.80 387.86 452.42 387.64C453.05 387.43 453.67 387.21 454.30 386.96C454.92 386.71 455.54 386.45 456.17 386.16C456.79 385.86 457.42 385.54 458.04 385.18C458.67 384.82 459.29 384.44 459.92 384.00C460.54 383.57 461.17 383.10 461.79 382.57C462.41 382.05 463.04 381.48 463.66 380.85C464.29 380.22 464.91 379.54 465.54 378.79C466.16 378.04 466.79 377.23 467.41 376.35C468.04 375.47 468.66 374.53 469.29 373.53C469.91 372.53 470.53 371.46 471.16 370.34C471.78 369.23 472.41 368.05 473.03 366.83C473.66 365.61 474.28 364.33 474.91 363.02C475.53 361.70 476.16 360.33 476.78 358.93C477.40 357.53 478.03 356.08 478.65 354.61C479.28 353.13 479.90 351.61 480.53 350.07C481.15 348.53 481.78 346.95 482.40 345.36C483.03 343.76 483.65 342.12 484.28 340.50C484.90 338.87 485.52 337.20 486.15 335.59C486.77 333.97 487.40 332.35 488.02 330.80C488.65 329.25 489.27 327.73 489.90 326.30C490.52 324.88 491.15 323.51 491.77 322.27C492.40 321.02 493.02 319.86 493.64 318.86C494.27 317.85 494.89 316.97 495.52 316.22C496.14 315.47 496.77 314.86 497.39 314.34C498.02 313.82 498.64 313.42 499.27 313.09C499.89 312.76 500.51 312.54 501.14 312.37C501.76 312.19 502.39 312.11 503.01 312.05C503.64 312.00 504.26 312.01 504.89 312.03C505.51 312.05 506.14 312.12 506.76 312.19C507.39 312.26 508.01 312.35 508.63 312.42C509.26 312.50 509.88 312.59 510.51 312.64C511.13 312.69 511.76 312.75 512.38 312.75C513.01 312.76 513.63 312.74 514.26 312.67C514.88 312.59 515.50 312.48 516.13 312.30C516.75 312.12 517.38 311.88 518.00 311.59C518.63 311.30 519.25 310.94 519.88 310.54C520.50 310.15 521.13 309.70 521.75 309.22C522.38 308.74 523.00 308.21 523.62 307.66C524.25 307.12 524.87 306.54 525.50 305.96C526.12 305.38 526.75 304.78 527.37 304.19C528.00 303.60 528.62 303.00 529.25 302.43C529.87 301.86 530.49 301.28 531.12 300.75C531.74 300.22 532.37 299.71 532.99 299.25C533.62 298.79 534.24 298.36 534.87 297.99C535.49 297.62 536.12 297.30 536.74 297.06C537.37 296.81 537.99 296.62 538.61 296.53C539.24 296.43 539.86 296.40 540.49 296.48C541.11 296.56 541.74 296.73 542.36 296.99C542.99 297.25 543.61 297.61 544.24 298.05C544.86 298.48 545.48 299.01 546.11 299.61C546.73 300.21 547.36 300.89 547.98 301.63C548.61 302.38 549.23 303.20 549.86 304.08C550.48 304.95 551.11 305.90 551.73 306.89C552.36 307.89 552.98 308.94 553.60 310.04C554.23 311.14 554.85 312.29 555.48 313.47C556.10 314.66 556.73 315.89 557.35 317.15C557.98 318.41 558.60 319.71 559.23 321.02C559.85 322.34 560.47 323.69 561.10 325.05C561.72 326.41 562.35 327.80 562.97 329.19C563.60 330.58 564.22 332.00 564.85 333.38C565.47 334.77 566.10 336.17 566.72 337.53C567.35 338.88 567.97 340.22 568.59 341.50C569.22 342.77 569.84 344.02 570.47 345.17C571.09 346.33 571.72 347.42 572.34 348.44C572.97 349.47 573.59 350.40 574.22 351.32C574.84 352.24 575.47 353.09 576.09 353.95C576.71 354.80 577.34 355.63 577.96 356.46C578.59 357.30 579.21 358.13 579.84 358.95C580.46 359.78 581.09 360.60 581.71 361.42C582.34 362.24 582.96 363.05 583.58 363.86C584.21 364.67 584.83 365.48 585.46 366.28C586.08 367.08 586.71 367.87 587.33 368.66C587.96 369.45 588.58 370.24 589.21 371.02C589.83 371.79 590.46 372.57 591.08 373.34C591.70 374.10 592.33 374.87 592.95 375.62C593.58 376.38 594.20 377.13 594.83 377.87C595.45 378.61 596.08 379.35 596.70 380.08C597.33 380.81 597.95 381.53 598.57 382.25C599.20 382.96 599.82 383.67 600.45 384.37C601.07 385.08 601.70 385.77 602.32 386.46C602.95 387.14 603.88 388.15 604.20 388.49" fill="none" stroke="#1f1f1f" stroke-width="1.5" stroke-linejoin="round" stroke-linecap="butt"/>
<path d="M628.55 434.25C628.86 433.17 629.80 429.60 630.43 427.77C631.05 425.93 631.68 424.48 632.31 423.26C632.93 422.04 633.56 421.14 634.18 420.43C634.81 419.73 635.44 419.30 636.06 419.00C636.69 418.71 637.31 418.65 637.94 418.67C638.57 418.70 639.19 418.90 639.82 419.15C640.44 419.40 641.07 419.76 641.70 420.17C642.32 420.59 642.95 421.08 643.57 421.64C644.20 422.19 644.83 422.82 645.45 423.49C646.08 424.17 646.70 424.91 647.33 425.70C647.96 426.48 648.58 427.32 649.21 428.20C649.83 429.08 650.46 430.00 651.09 430.96C651.71 431.91 652.34 432.90 652.97 433.92C653.59 434.93 654.22 435.98 654.84 437.04C655.47 438.10 656.10 439.18 656.72 440.27C657.35 441.35 657.97 442.46 658.60 443.56C659.23 444.66 659.85 445.77 660.48 446.87C661.10 447.97 661.73 449.07 662.36 450.15C662.98 451.23 663.61 452.30 664.23 453.36C664.86 454.41 665.49 455.45 666.11 456.47C666.74 457.49 667.36 458.49 667.99 459.48C668.62 460.46 669.24 461.42 669.87 462.36C670.49 463.29 671.12 464.21 671.75 465.10C672.37 465.99 673.00 466.85 673.63 467.69C674.25 468.52 674.88 469.33 675.50 470.11C676.13 470.89 676.76 471.63 677.38 472.34C678.01 473.06 678.63 473.74 679.26 474.38C679.89 475.02 680.51 475.63 681.14 476.20C681.76 476.77 682.39 477.31 683.02 477.82C683.64 478.34 684.27 478.82 684.89 479.28C685.52 479.75 686.15 480.19 686.77 480.63C687.40 481.06 688.02 481.48 688.65 481.90C689.28 482.31 689.90 482.72 690.53 483.13C691.15 483.55 691.78 483.96 692.41 484.38C693.03 484.79 693.66 485.22 694.28 485.64C694.91 486.07 695.54 486.51 696.16 486.95C696.79 487.39 697.42 487.83 698.04 488.29C698.67 488.75 699.29 489.21 699.92 489.68C700.55 490.16 701.17 490.64 701.80 491.13C702.42 491.62 703.05 492.13 703.68 492.64C704.30 493.16 704.93 493.69 705.55 494.23C706.18 494.77 706.81 495.33 707.43 495.90C708.06 496.47 708.68 497.05 709.31 497.65C709.94 498.25 710.56 498.86 711.19 499.48C711.81 500.09 712.44 500.72 713.07 501.34C713.69 501.96 714.32 502.59 714.94 503.22C715.57 503.84 716.20 504.46 716.82 505.07C717.45 505.68 718.07 506.28 718.70 506.87C719.33 507.45 719.95 508.03 720.58 508.58C721.21 509.14 721.83 509.67 722.46 510.18C723.08 510.69 723.71 511.18 724.34 511.63C724.96 512.09 725.59 512.52 726.21 512.91C726.84 513.30 727.47 513.65 728.09 513.98C728.72 514.30 729.34 514.58 729.97 514.84C730.60 515.10 731.22 515.32 731.85 515.52C732.47 515.72 733.10 515.89 733.73 516.03C734.35 516.18 734.98 516.30 735.60 516.40C736.23 516.49 736.86 516.57 737.48 516.62C738.11 516.68 738.73 516.71 739.36 516.73C739.99 516.75 740.61 516.75 741.24 516.74C741.87 516.73 742.49 516.70 743.12 516.66C743.74 516.63 744.37 516.58 745.00 516.52C745.62 516.47 746.25 516.40 746.87 516.33C747.50 516.26 748.13 516.19 748.75 516.11C749.38 516.03 750.00 515.95 750.63 515.87C751.26 515.79 751.88 515.71 752.51 515.63C753.13 515.55 753.76 515.47 754.39 515.39C755.01 515.31 755.64 515.24 756.26 515.16C756.89 515.08 757.52 515.01 758.14 514.94C758.77 514.87 759.39 514.80 760.02 514.73C760.65 514.66 761.27 514.60 761.90 514.54C762.52 514.48 763.15 514.42 763.78 514.37C764.40 514.32 765.03 514.27 765.66 514.23C766.28 514.19 766.91 514.15 767.53 514.12C768.16 514.09 768.79 514.06 769.41 514.04C770.04 514.02 770.66 514.01 771.29 514.00C771.92 514.00 772.54 514.00 773.17 514.01C773.79 514.02 774.42 514.03 775.05 514.06C775.67 514.09 776.30 514.12 776.92 514.16C777.55 514.20 778.18 514.26 778.80 514.32C779.43 514.38 780.05 514.45 780.68 514.53C781.31 514.61 781.93 514.71 782.56 514.81C783.18 514.91 783.81 515.03 784.44 515.15C785.06 515.28 785.69 515.42 786.32 515.57C786.94 515.72 787.57 515.88 788.19 516.06C788.82 516.23 789.45 516.42 790.07 516.62C790.70 516.83 791.32 517.04 791.95 517.28C792.58 517.51 793.20 517.75 793.83 518.01C794.45 518.27 795.39 518.70 795.71 518.84" fill="none" stroke="#1f1f1f" stroke-width="1.5" stroke-linejoin="round" stroke-linecap="butt"/>
<path d="M820.09 640.14C820.41 640.00 821.35 639.57 821.97 639.31C822.60 639.05 823.22 638.81 823.85 638.58C824.48 638.34 825.10 638.13 825.73 637.92C826.35 637.72 826.98 637.53 827.61 637.36C828.23 637.18 828.86 637.02 829.48 636.87C830.11 636.72 830.74 636.58 831.36 636.45C831.99 636.33 832.62 636.21 833.24 636.11C833.87 636.01 834.49 635.91 835.12 635.83C835.75 635.75 836.37 635.68 837.00 635.62C837.62 635.56 838.25 635.50 838.88 635.46C839.50 635.42 840.13 635.39 840.75 635.36C841.38 635.33 842.01 635.32 842.63 635.31C843.26 635.30 843.88 635.30 844.51 635.30C845.14 635.31 845.76 635.32 846.39 635.34C847.01 635.36 847.64 635.39 848.27 635.42C848.89 635.45 849.52 635.49 850.14 635.53C850.77 635.57 851.40 635.62 852.02 635.67C852.65 635.72 853.28 635.78 853.90 635.84C854.53 635.90 855.15 635.96 855.78 636.03C856.41 636.10 857.03 636.17 857.66 636.24C858.28 636.31 858.91 636.38 859.54 636.46C860.16 636.54 860.79 636.61 861.41 636.69C862.04 636.77 862.67 636.85 863.29 636.93C863.92 637.01 864.54 637.09 865.17 637.17C865.80 637.25 866.42 637.33 867.05 637.41C867.67 637.49 868.30 637.56 868.93 637.63C869.55 637.70 870.18 637.77 870.80 637.82C871.43 637.88 872.06 637.93 872.68 637.96C873.31 638.00 873.93 638.03 874.56 638.04C875.19 638.05 875.81 638.05 876.44 638.03C877.07 638.01 877.69 637.98 878.32 637.92C878.94 637.87 879.57 637.79 880.20 637.70C880.82 637.60 881.45 637.48 882.07 637.33C882.70 637.19 883.33 637.02 883.95 636.82C884.58 636.62 885.20 636.40 885.83 636.14C886.46 635.88 887.08 635.60 887.71 635.28C888.33 634.95 888.96 634.60 889.59 634.21C890.21 633.82 890.84 633.39 891.46 632.93C892.09 632.48 892.72 631.99 893.34 631.48C893.97 630.97 894.59 630.44 895.22 629.88C895.85 629.33 896.47 628.75 897.10 628.17C897.73 627.58 898.35 626.98 898.98 626.37C899.60 625.76 900.23 625.14 900.86 624.52C901.48 623.89 902.11 623.26 902.73 622.64C903.36 622.02 903.99 621.39 904.61 620.78C905.24 620.16 905.86 619.55 906.49 618.95C907.12 618.35 907.74 617.77 908.37 617.20C908.99 616.63 909.62 616.07 910.25 615.53C910.87 614.99 911.50 614.46 912.12 613.94C912.75 613.43 913.38 612.92 914.00 612.43C914.63 611.94 915.25 611.46 915.88 610.98C916.51 610.51 917.13 610.05 917.76 609.59C918.38 609.13 919.01 608.69 919.64 608.25C920.26 607.81 920.89 607.37 921.52 606.94C922.14 606.52 922.77 606.09 923.39 605.68C924.02 605.26 924.65 604.85 925.27 604.43C925.90 604.02 926.52 603.61 927.15 603.20C927.78 602.78 928.40 602.36 929.03 601.93C929.65 601.49 930.28 601.05 930.91 600.58C931.53 600.12 932.16 599.64 932.78 599.12C933.41 598.61 934.04 598.07 934.66 597.50C935.29 596.93 935.91 596.32 936.54 595.68C937.17 595.04 937.79 594.36 938.42 593.64C939.04 592.93 939.67 592.19 940.30 591.41C940.92 590.63 941.55 589.82 942.17 588.99C942.80 588.15 943.43 587.29 944.05 586.40C944.68 585.51 945.31 584.59 945.93 583.66C946.56 582.72 947.18 581.76 947.81 580.78C948.44 579.79 949.06 578.79 949.69 577.77C950.31 576.75 950.94 575.71 951.57 574.66C952.19 573.60 952.82 572.53 953.44 571.45C954.07 570.37 954.70 569.27 955.32 568.17C955.95 567.07 956.57 565.96 957.20 564.86C957.83 563.76 958.45 562.65 959.08 561.57C959.70 560.48 960.33 559.40 960.96 558.34C961.58 557.28 962.21 556.23 962.83 555.22C963.46 554.20 964.09 553.21 964.71 552.26C965.34 551.30 965.97 550.38 966.59 549.50C967.22 548.62 967.84 547.78 968.47 547.00C969.10 546.21 969.72 545.47 970.35 544.79C970.97 544.12 971.60 543.49 972.23 542.94C972.85 542.38 973.48 541.89 974.10 541.47C974.73 541.06 975.36 540.70 975.98 540.45C976.61 540.20 977.23 540.00 977.86 539.97C978.49 539.95 979.11 540.01 979.74 540.30C980.36 540.60 980.99 541.03 981.62 541.73C982.24 542.44 982.87 543.34 983.49 544.56C984.12 545.78 984.75 547.23 985.37 549.07C986.00 550.90 986.94 554.47 987.25 555.55" fill="none" stroke="#1f1f1f" stroke-width="1.5" stroke-linejoin="round" stroke-linecap="butt"/>
<g fill="#000">
<circle cx="62.7" cy="189.5" r="3.0"/><circle cx="54.5" cy="218.5" r="3.0"/><circle cx="127.6" cy="180.4" r="3.0"/><circle cx="147.5" cy="184.5" r="3.0"/><circle cx="169.3" cy="176.0" r="3.0"/><circle cx="169.8" cy="178.1" r="3.0"/><circle cx="183.9" cy="188.8" r="3.0"/><circle cx="172.7" cy="193.0" r="3.0"/><circle cx="212.6" cy="195.0" r="3.0"/><circle cx="192.5" cy="198.1" r="3.0"/><circle cx="181.6" cy="196.7" r="3.0"/><circle cx="178.8" cy="198.9" r="3.0"/><circle cx="183.7" cy="202.3" r="3.0"/><circle cx="169.7" cy="201.3" r="3.0"/><circle cx="205.3" cy="204.8" r="3.0"/><circle cx="144.3" cy="201.3" r="3.0"/><circle cx="149.4" cy="202.3" r="3.0"/><circle cx="156.6" cy="202.3" r="3.0"/><circle cx="158.5" cy="205.7" r="3.0"/><circle cx="140.1" cy="205.3" r="3.0"/><circle cx="152.8" cy="208.5" r="3.0"/><circle cx="142.4" cy="210.2" r="3.0"/><circle cx="146.0" cy="211.1" r="3.0"/><circle cx="144.0" cy="212.6" r="3.0"/><circle cx="153.0" cy="216.5" r="3.0"/><circle cx="174.9" cy="212.9" r="3.0"/><circle cx="181.6" cy="215.5" r="3.0"/><circle cx="184.2" cy="217.7" r="3.0"/><circle cx="213.6" cy="212.6" r="3.0"/><circle cx="212.6" cy="214.6" r="3.0"/><circle cx="221.9" cy="216.0" r="3.0"/><circle cx="124.3" cy="219.3" r="3.0"/><circle cx="127.8" cy="219.5" r="3.0"/><circle cx="135.7" cy="221.4" r="3.0"/><circle cx="141.1" cy="221.4" r="3.0"/><circle cx="144.5" cy="219.8" r="3.0"/><circle cx="144.3" cy="225.3" r="3.0"/><circle cx="169.0" cy="220.9" r="3.0"/><circle cx="174.4" cy="223.9" r="3.0"/><circle cx="122.1" cy="226.2" r="3.0"/><circle cx="129.8" cy="228.9" r="3.0"/><circle cx="135.7" cy="231.6" r="3.0"/><circle cx="155.2" cy="228.5" r="3.0"/><circle cx="161.9" cy="229.7" r="3.0"/><circle cx="166.7" cy="227.0" r="3.0"/><circle cx="168.4" cy="232.7" r="3.0"/><circle cx="201.2" cy="232.7" r="3.0"/><circle cx="123.9" cy="233.0" r="3.0"/><circle cx="145.4" cy="234.0" r="3.0"/><circle cx="154.9" cy="233.0" r="3.0"/><circle cx="87.2" cy="231.0" r="3.0"/><circle cx="101.0" cy="231.0" r="3.0"/><circle cx="103.2" cy="230.0" r="3.0"/><circle cx="113.2" cy="231.6" r="3.0"/><circle cx="116.5" cy="233.3" r="3.0"/><circle cx="130.3" cy="237.0" r="3.0"/><circle cx="136.3" cy="238.2" r="3.0"/><circle cx="98.9" cy="238.0" r="3.0"/><circle cx="84.9" cy="241.9" r="3.0"/><circle cx="94.7" cy="242.6" r="3.0"/><circle cx="102.0" cy="242.1" r="3.0"/><circle cx="107.5" cy="240.2" r="3.0"/><circle cx="111.6" cy="242.4" r="3.0"/><circle cx="115.3" cy="239.5" r="3.0"/><circle cx="117.0" cy="241.8" r="3.0"/><circle cx="131.5" cy="246.4" r="3.0"/><circle cx="83.2" cy="252.7" r="3.0"/><circle cx="93.7" cy="250.7" r="3.0"/><circle cx="97.9" cy="251.9" r="3.0"/><circle cx="111.5" cy="249.8" r="3.0"/><circle cx="107.0" cy="253.2" r="3.0"/><circle cx="109.0" cy="257.8" r="3.0"/><circle cx="98.4" cy="264.5" r="3.0"/><circle cx="114.8" cy="264.2" r="3.0"/><circle cx="121.0" cy="265.7" r="3.0"/><circle cx="141.0" cy="262.2" r="3.0"/><circle cx="82.0" cy="268.8" r="3.0"/><circle cx="114.1" cy="269.4" r="3.0"/><circle cx="139.0" cy="269.6" r="3.0"/><circle cx="92.0" cy="270.9" r="3.0"/><circle cx="94.5" cy="270.9" r="3.0"/><circle cx="99.1" cy="272.8" r="3.0"/><circle cx="111.9" cy="275.3" r="3.0"/><circle cx="127.5" cy="276.0" r="3.0"/><circle cx="72.9" cy="279.2" r="3.0"/><circle cx="80.8" cy="277.9" r="3.0"/><circle cx="84.4" cy="279.9" r="3.0"/><circle cx="152.9" cy="240.9" r="3.0"/><circle cx="147.0" cy="244.9" r="3.0"/><circle cx="156.4" cy="245.4" r="3.0"/><circle cx="156.1" cy="247.5" r="3.0"/><circle cx="168.1" cy="243.9" r="3.0"/><circle cx="151.5" cy="259.8" r="3.0"/><circle cx="147.7" cy="263.9" r="3.0"/><circle cx="167.8" cy="264.4" r="3.0"/><circle cx="122.6" cy="227.6" r="3.0"/><circle cx="149.6" cy="207.0" r="3.0"/>
<circle cx="140.3" cy="297.5" r="3.0"/><circle cx="111.9" cy="303.7" r="3.0"/><circle cx="116.3" cy="312.5" r="3.0"/><circle cx="122.4" cy="314.8" r="3.0"/><circle cx="136.6" cy="313.5" r="3.0"/><circle cx="83.0" cy="316.2" r="3.0"/><circle cx="97.9" cy="317.7" r="3.0"/><circle cx="127.5" cy="320.9" r="3.0"/><circle cx="130.6" cy="324.1" r="3.0"/><circle cx="111.9" cy="324.8" r="3.0"/><circle cx="54.5" cy="329.9" r="3.0"/><circle cx="72.7" cy="330.9" r="3.0"/><circle cx="100.9" cy="330.7" r="3.0"/><circle cx="103.3" cy="331.2" r="3.0"/><circle cx="115.1" cy="332.2" r="3.0"/><circle cx="114.8" cy="336.9" r="3.0"/><circle cx="109.0" cy="334.9" r="3.0"/><circle cx="127.5" cy="330.2" r="3.0"/><circle cx="127.8" cy="333.9" r="3.0"/><circle cx="62.8" cy="342.0" r="3.0"/><circle cx="81.7" cy="340.5" r="3.0"/><circle cx="84.7" cy="340.3" r="3.0"/><circle cx="91.7" cy="342.9" r="3.0"/><circle cx="94.0" cy="341.0" r="3.0"/><circle cx="99.2" cy="340.0" r="3.0"/><circle cx="98.4" cy="343.9" r="3.0"/><circle cx="98.9" cy="349.3" r="3.0"/><circle cx="130.0" cy="341.0" r="3.0"/><circle cx="117.0" cy="345.2" r="3.0"/><circle cx="123.9" cy="345.9" r="3.0"/><circle cx="135.5" cy="349.3" r="3.0"/><circle cx="84.9" cy="348.4" r="3.0"/><circle cx="87.1" cy="354.4" r="3.0"/><circle cx="158.3" cy="302.0" r="3.0"/><circle cx="166.6" cy="307.2" r="3.0"/><circle cx="169.3" cy="309.3" r="3.0"/><circle cx="168.8" cy="313.3" r="3.0"/><circle cx="169.8" cy="316.7" r="3.0"/><circle cx="181.7" cy="318.4" r="3.0"/><circle cx="184.0" cy="325.3" r="3.0"/><circle cx="145.0" cy="325.0" r="3.0"/><circle cx="155.4" cy="326.8" r="3.0"/><circle cx="167.8" cy="327.3" r="3.0"/><circle cx="174.5" cy="329.5" r="3.0"/><circle cx="161.9" cy="332.4" r="3.0"/><circle cx="143.3" cy="330.2" r="3.0"/><circle cx="147.7" cy="330.2" r="3.0"/><circle cx="138.9" cy="332.8" r="3.0"/><circle cx="153.1" cy="330.2" r="3.0"/><circle cx="150.7" cy="332.2" r="3.0"/><circle cx="143.8" cy="335.1" r="3.0"/><circle cx="147.2" cy="336.6" r="3.0"/><circle cx="144.3" cy="340.5" r="3.0"/><circle cx="153.1" cy="340.0" r="3.0"/><circle cx="155.1" cy="344.9" r="3.0"/><circle cx="151.5" cy="347.8" r="3.0"/><circle cx="181.7" cy="337.8" r="3.0"/><circle cx="192.5" cy="346.1" r="3.0"/><circle cx="169.6" cy="347.6" r="3.0"/><circle cx="174.0" cy="347.2" r="3.0"/><circle cx="178.8" cy="351.3" r="3.0"/><circle cx="221.7" cy="349.7" r="3.0"/><circle cx="212.4" cy="351.6" r="3.0"/><circle cx="213.9" cy="356.8" r="3.0"/><circle cx="144.2" cy="354.6" r="3.0"/><circle cx="107.2" cy="357.8" r="3.0"/><circle cx="102.1" cy="359.4" r="3.0"/><circle cx="121.0" cy="360.4" r="3.0"/><circle cx="80.8" cy="362.9" r="3.0"/><circle cx="93.7" cy="360.7" r="3.0"/><circle cx="94.7" cy="365.1" r="3.0"/><circle cx="111.6" cy="365.9" r="3.0"/><circle cx="113.8" cy="364.8" r="3.0"/><circle cx="135.8" cy="364.2" r="3.0"/><circle cx="140.8" cy="364.2" r="3.0"/><circle cx="107.5" cy="372.7" r="3.0"/><circle cx="121.9" cy="371.8" r="3.0"/><circle cx="131.5" cy="374.9" r="3.0"/><circle cx="141.0" cy="371.5" r="3.0"/><circle cx="114.1" cy="381.8" r="3.0"/><circle cx="135.5" cy="390.1" r="3.0"/><circle cx="124.2" cy="401.2" r="3.0"/><circle cx="147.2" cy="358.3" r="3.0"/><circle cx="153.1" cy="358.3" r="3.0"/><circle cx="156.5" cy="362.7" r="3.0"/><circle cx="156.5" cy="367.8" r="3.0"/><circle cx="150.7" cy="368.5" r="3.0"/><circle cx="147.7" cy="372.0" r="3.0"/><circle cx="168.1" cy="362.4" r="3.0"/><circle cx="172.7" cy="362.0" r="3.0"/><circle cx="183.7" cy="369.2" r="3.0"/><circle cx="201.5" cy="365.1" r="3.0"/><circle cx="205.6" cy="368.1" r="3.0"/><circle cx="213.2" cy="367.9" r="3.0"/><circle cx="168.1" cy="380.5" r="3.0"/><circle cx="184.0" cy="388.2" r="3.0"/><circle cx="174.7" cy="395.7" r="3.0"/>
<circle cx="253.5" cy="303.7" r="3.0"/><circle cx="331.1" cy="307.0" r="3.0"/><circle cx="289.9" cy="316.0" r="3.0"/><circle cx="291.9" cy="317.9" r="3.0"/><circle cx="313.9" cy="313.5" r="3.0"/><circle cx="321.0" cy="312.5" r="3.0"/><circle cx="331.4" cy="315.0" r="3.0"/><circle cx="271.1" cy="327.3" r="3.0"/><circle cx="306.6" cy="324.8" r="3.0"/><circle cx="314.9" cy="324.3" r="3.0"/><circle cx="319.1" cy="325.3" r="3.0"/><circle cx="328.3" cy="326.8" r="3.0"/><circle cx="246.8" cy="331.0" r="3.0"/><circle cx="252.4" cy="330.4" r="3.0"/><circle cx="262.7" cy="332.8" r="3.0"/><circle cx="309.0" cy="330.2" r="3.0"/><circle cx="311.0" cy="332.2" r="3.0"/><circle cx="324.7" cy="330.7" r="3.0"/><circle cx="327.3" cy="332.2" r="3.0"/><circle cx="337.3" cy="329.5" r="3.0"/><circle cx="281.8" cy="334.9" r="3.0"/><circle cx="270.6" cy="336.8" r="3.0"/><circle cx="302.7" cy="337.1" r="3.0"/><circle cx="245.8" cy="340.5" r="3.0"/><circle cx="264.4" cy="340.3" r="3.0"/><circle cx="260.5" cy="341.2" r="3.0"/><circle cx="260.0" cy="342.9" r="3.0"/><circle cx="313.5" cy="340.3" r="3.0"/><circle cx="327.9" cy="341.0" r="3.0"/><circle cx="270.6" cy="344.6" r="3.0"/><circle cx="307.6" cy="344.4" r="3.0"/><circle cx="307.3" cy="348.5" r="3.0"/><circle cx="320.8" cy="345.4" r="3.0"/><circle cx="335.4" cy="347.3" r="3.0"/><circle cx="257.4" cy="349.5" r="3.0"/><circle cx="278.2" cy="347.9" r="3.0"/><circle cx="324.7" cy="354.5" r="3.0"/><circle cx="334.2" cy="355.0" r="3.0"/><circle cx="288.9" cy="357.8" r="3.0"/><circle cx="366.2" cy="297.4" r="3.0"/><circle cx="365.2" cy="302.1" r="3.0"/><circle cx="413.1" cy="309.6" r="3.0"/><circle cx="340.7" cy="313.2" r="3.0"/><circle cx="349.5" cy="318.4" r="3.0"/><circle cx="372.8" cy="316.7" r="3.0"/><circle cx="343.4" cy="321.2" r="3.0"/><circle cx="346.1" cy="325.1" r="3.0"/><circle cx="344.9" cy="329.9" r="3.0"/><circle cx="357.9" cy="329.2" r="3.0"/><circle cx="360.3" cy="331.2" r="3.0"/><circle cx="358.4" cy="334.1" r="3.0"/><circle cx="370.8" cy="332.2" r="3.0"/><circle cx="372.6" cy="337.4" r="3.0"/><circle cx="379.7" cy="337.7" r="3.0"/><circle cx="406.6" cy="333.8" r="3.0"/><circle cx="348.1" cy="340.3" r="3.0"/><circle cx="354.7" cy="340.7" r="3.0"/><circle cx="392.0" cy="342.0" r="3.0"/><circle cx="378.0" cy="346.2" r="3.0"/><circle cx="410.3" cy="347.9" r="3.0"/><circle cx="340.5" cy="349.3" r="3.0"/><circle cx="349.5" cy="349.7" r="3.0"/><circle cx="376.7" cy="351.4" r="3.0"/><circle cx="383.2" cy="351.9" r="3.0"/><circle cx="342.2" cy="354.8" r="3.0"/><circle cx="354.4" cy="356.8" r="3.0"/><circle cx="249.0" cy="362.7" r="3.0"/><circle cx="268.8" cy="360.5" r="3.0"/><circle cx="293.4" cy="360.7" r="3.0"/><circle cx="298.3" cy="362.2" r="3.0"/><circle cx="294.5" cy="366.1" r="3.0"/><circle cx="306.6" cy="359.2" r="3.0"/><circle cx="306.4" cy="365.3" r="3.0"/><circle cx="301.7" cy="367.6" r="3.0"/><circle cx="321.8" cy="361.7" r="3.0"/><circle cx="322.8" cy="364.6" r="3.0"/><circle cx="320.8" cy="365.1" r="3.0"/><circle cx="271.8" cy="372.0" r="3.0"/><circle cx="274.7" cy="371.5" r="3.0"/><circle cx="309.7" cy="372.5" r="3.0"/><circle cx="300.0" cy="374.9" r="3.0"/><circle cx="333.5" cy="371.7" r="3.0"/><circle cx="262.7" cy="381.6" r="3.0"/><circle cx="304.3" cy="380.6" r="3.0"/><circle cx="313.5" cy="390.1" r="3.0"/><circle cx="360.8" cy="358.5" r="3.0"/><circle cx="399.8" cy="358.5" r="3.0"/><circle cx="386.1" cy="362.0" r="3.0"/><circle cx="370.8" cy="362.9" r="3.0"/><circle cx="340.5" cy="364.3" r="3.0"/><circle cx="351.8" cy="367.9" r="3.0"/><circle cx="361.6" cy="369.0" r="3.0"/><circle cx="367.2" cy="368.1" r="3.0"/><circle cx="371.3" cy="369.5" r="3.0"/><circle cx="392.9" cy="388.4" r="3.0"/><circle cx="354.1" cy="395.8" r="3.0"/><circle cx="343.6" cy="401.2" r="3.0"/>
<circle cx="62.7" cy="518.5" r="3.0"/><circle cx="54.5" cy="515.6" r="3.0"/><circle cx="127.6" cy="513.4" r="3.0"/><circle cx="147.5" cy="502.0" r="3.0"/><circle cx="169.3" cy="484.3" r="3.0"/><circle cx="169.8" cy="483.8" r="3.0"/><circle cx="183.9" cy="469.3" r="3.0"/><circle cx="172.7" cy="481.0" r="3.0"/><circle cx="212.6" cy="432.7" r="3.0"/><circle cx="192.5" cy="459.3" r="3.0"/><circle cx="181.6" cy="471.8" r="3.0"/><circle cx="178.8" cy="474.8" r="3.0"/><circle cx="183.7" cy="469.5" r="3.0"/><circle cx="169.7" cy="483.9" r="3.0"/><circle cx="205.3" cy="442.9" r="3.0"/><circle cx="144.3" cy="504.1" r="3.0"/><circle cx="149.4" cy="500.7" r="3.0"/><circle cx="156.6" cy="495.3" r="3.0"/><circle cx="158.5" cy="493.8" r="3.0"/><circle cx="140.1" cy="506.8" r="3.0"/><circle cx="152.8" cy="498.2" r="3.0"/><circle cx="142.4" cy="505.4" r="3.0"/><circle cx="146.0" cy="503.0" r="3.0"/><circle cx="144.0" cy="504.3" r="3.0"/><circle cx="153.0" cy="498.1" r="3.0"/><circle cx="174.9" cy="478.8" r="3.0"/><circle cx="181.6" cy="471.8" r="3.0"/><circle cx="184.2" cy="469.0" r="3.0"/><circle cx="213.6" cy="431.2" r="3.0"/><circle cx="212.6" cy="432.7" r="3.0"/><circle cx="221.9" cy="418.8" r="3.0"/><circle cx="124.3" cy="514.8" r="3.0"/><circle cx="127.8" cy="513.3" r="3.0"/><circle cx="135.7" cy="509.3" r="3.0"/><circle cx="141.1" cy="506.2" r="3.0"/><circle cx="144.5" cy="504.0" r="3.0"/><circle cx="144.3" cy="504.1" r="3.0"/><circle cx="169.0" cy="484.6" r="3.0"/><circle cx="174.4" cy="479.3" r="3.0"/><circle cx="122.1" cy="515.7" r="3.0"/><circle cx="129.8" cy="512.3" r="3.0"/><circle cx="135.7" cy="509.3" r="3.0"/><circle cx="155.2" cy="496.4" r="3.0"/><circle cx="161.9" cy="490.9" r="3.0"/><circle cx="166.7" cy="486.7" r="3.0"/><circle cx="168.4" cy="485.1" r="3.0"/><circle cx="201.2" cy="448.4" r="3.0"/><circle cx="123.9" cy="515.0" r="3.0"/><circle cx="145.4" cy="503.4" r="3.0"/><circle cx="154.9" cy="496.6" r="3.0"/><circle cx="87.2" cy="522.3" r="3.0"/><circle cx="101.0" cy="521.4" r="3.0"/><circle cx="103.2" cy="521.0" r="3.0"/><circle cx="113.2" cy="518.7" r="3.0"/><circle cx="116.5" cy="517.7" r="3.0"/><circle cx="130.3" cy="512.1" r="3.0"/><circle cx="136.3" cy="509.0" r="3.0"/><circle cx="98.9" cy="521.7" r="3.0"/><circle cx="84.9" cy="522.2" r="3.0"/><circle cx="94.7" cy="522.1" r="3.0"/><circle cx="102.0" cy="521.2" r="3.0"/><circle cx="107.5" cy="520.2" r="3.0"/><circle cx="111.6" cy="519.2" r="3.0"/><circle cx="115.3" cy="518.1" r="3.0"/><circle cx="117.0" cy="517.5" r="3.0"/><circle cx="131.5" cy="511.5" r="3.0"/><circle cx="83.2" cy="522.1" r="3.0"/><circle cx="93.7" cy="522.1" r="3.0"/><circle cx="97.9" cy="521.8" r="3.0"/><circle cx="111.5" cy="519.2" r="3.0"/><circle cx="107.0" cy="520.3" r="3.0"/><circle cx="109.0" cy="519.8" r="3.0"/><circle cx="98.4" cy="521.7" r="3.0"/><circle cx="114.8" cy="518.3" r="3.0"/><circle cx="121.0" cy="516.1" r="3.0"/><circle cx="141.0" cy="506.2" r="3.0"/><circle cx="82.0" cy="522.1" r="3.0"/><circle cx="114.1" cy="518.5" r="3.0"/><circle cx="139.0" cy="507.4" r="3.0"/><circle cx="92.0" cy="522.2" r="3.0"/><circle cx="94.5" cy="522.1" r="3.0"/><circle cx="99.1" cy="521.6" r="3.0"/><circle cx="111.9" cy="519.1" r="3.0"/><circle cx="127.5" cy="513.4" r="3.0"/><circle cx="72.9" cy="520.9" r="3.0"/><circle cx="80.8" cy="522.0" r="3.0"/><circle cx="84.4" cy="522.2" r="3.0"/><circle cx="152.9" cy="498.1" r="3.0"/><circle cx="147.0" cy="502.3" r="3.0"/><circle cx="156.4" cy="495.4" r="3.0"/><circle cx="156.1" cy="495.7" r="3.0"/><circle cx="168.1" cy="485.4" r="3.0"/><circle cx="151.5" cy="499.2" r="3.0"/><circle cx="147.7" cy="501.9" r="3.0"/><circle cx="167.8" cy="485.7" r="3.0"/><circle cx="122.6" cy="515.5" r="3.0"/><circle cx="149.6" cy="500.5" r="3.0"/>
<circle cx="62.7" cy="543.8" r="3.0"/><circle cx="54.5" cy="546.7" r="3.0"/><circle cx="127.6" cy="548.9" r="3.0"/><circle cx="147.5" cy="560.3" r="3.0"/><circle cx="169.3" cy="578.0" r="3.0"/><circle cx="169.8" cy="578.5" r="3.0"/><circle cx="183.9" cy="593.0" r="3.0"/><circle cx="172.7" cy="581.3" r="3.0"/><circle cx="212.6" cy="629.6" r="3.0"/><circle cx="192.5" cy="603.0" r="3.0"/><circle cx="181.6" cy="590.5" r="3.0"/><circle cx="178.8" cy="587.5" r="3.0"/><circle cx="183.7" cy="592.8" r="3.0"/><circle cx="169.7" cy="578.4" r="3.0"/><circle cx="205.3" cy="619.4" r="3.0"/><circle cx="144.3" cy="558.2" r="3.0"/><circle cx="149.4" cy="561.6" r="3.0"/><circle cx="156.6" cy="567.0" r="3.0"/><circle cx="158.5" cy="568.5" r="3.0"/><circle cx="140.1" cy="555.5" r="3.0"/><circle cx="152.8" cy="564.1" r="3.0"/><circle cx="142.4" cy="556.9" r="3.0"/><circle cx="146.0" cy="559.3" r="3.0"/><circle cx="144.0" cy="558.0" r="3.0"/><circle cx="153.0" cy="564.2" r="3.0"/><circle cx="174.9" cy="583.5" r="3.0"/><circle cx="181.6" cy="590.5" r="3.0"/><circle cx="184.2" cy="593.3" r="3.0"/><circle cx="213.6" cy="631.1" r="3.0"/><circle cx="212.6" cy="629.6" r="3.0"/><circle cx="221.9" cy="643.5" r="3.0"/><circle cx="124.3" cy="547.5" r="3.0"/><circle cx="127.8" cy="549.0" r="3.0"/><circle cx="135.7" cy="553.0" r="3.0"/><circle cx="141.1" cy="556.1" r="3.0"/><circle cx="144.5" cy="558.3" r="3.0"/><circle cx="144.3" cy="558.2" r="3.0"/><circle cx="169.0" cy="577.7" r="3.0"/><circle cx="174.4" cy="583.0" r="3.0"/><circle cx="122.1" cy="546.6" r="3.0"/><circle cx="129.8" cy="550.0" r="3.0"/><circle cx="135.7" cy="553.0" r="3.0"/><circle cx="155.2" cy="565.9" r="3.0"/><circle cx="161.9" cy="571.4" r="3.0"/><circle cx="166.7" cy="575.6" r="3.0"/><circle cx="168.4" cy="577.2" r="3.0"/><circle cx="201.2" cy="613.9" r="3.0"/><circle cx="123.9" cy="547.3" r="3.0"/><circle cx="145.4" cy="558.9" r="3.0"/><circle cx="154.9" cy="565.7" r="3.0"/><circle cx="87.2" cy="540.0" r="3.0"/><circle cx="101.0" cy="540.9" r="3.0"/><circle cx="103.2" cy="541.3" r="3.0"/><circle cx="113.2" cy="543.6" r="3.0"/><circle cx="116.5" cy="544.6" r="3.0"/><circle cx="130.3" cy="550.2" r="3.0"/><circle cx="136.3" cy="553.3" r="3.0"/><circle cx="98.9" cy="540.6" r="3.0"/><circle cx="84.9" cy="540.1" r="3.0"/><circle cx="94.7" cy="540.2" r="3.0"/><circle cx="102.0" cy="541.1" r="3.0"/><circle cx="107.5" cy="542.1" r="3.0"/><circle cx="111.6" cy="543.1" r="3.0"/><circle cx="115.3" cy="544.2" r="3.0"/><circle cx="117.0" cy="544.8" r="3.0"/><circle cx="131.5" cy="550.8" r="3.0"/><circle cx="83.2" cy="540.2" r="3.0"/><circle cx="93.7" cy="540.2" r="3.0"/><circle cx="97.9" cy="540.5" r="3.0"/><circle cx="111.5" cy="543.1" r="3.0"/><circle cx="107.0" cy="542.0" r="3.0"/><circle cx="109.0" cy="542.5" r="3.0"/><circle cx="98.4" cy="540.6" r="3.0"/><circle cx="114.8" cy="544.0" r="3.0"/><circle cx="121.0" cy="546.2" r="3.0"/><circle cx="141.0" cy="556.1" r="3.0"/><circle cx="82.0" cy="540.2" r="3.0"/><circle cx="114.1" cy="543.8" r="3.0"/><circle cx="139.0" cy="554.9" r="3.0"/><circle cx="92.0" cy="540.1" r="3.0"/><circle cx="94.5" cy="540.2" r="3.0"/><circle cx="99.1" cy="540.7" r="3.0"/><circle cx="111.9" cy="543.2" r="3.0"/><circle cx="127.5" cy="548.9" r="3.0"/><circle cx="72.9" cy="541.4" r="3.0"/><circle cx="80.8" cy="540.3" r="3.0"/><circle cx="84.4" cy="540.1" r="3.0"/><circle cx="152.9" cy="564.2" r="3.0"/><circle cx="147.0" cy="560.0" r="3.0"/><circle cx="156.4" cy="566.9" r="3.0"/><circle cx="156.1" cy="566.6" r="3.0"/><circle cx="168.1" cy="576.9" r="3.0"/><circle cx="151.5" cy="563.1" r="3.0"/><circle cx="147.7" cy="560.4" r="3.0"/><circle cx="167.8" cy="576.6" r="3.0"/><circle cx="122.6" cy="546.8" r="3.0"/><circle cx="149.6" cy="561.8" r="3.0"/>
<circle cx="391.5" cy="518.5" r="3.0"/><circle cx="344.8" cy="515.6" r="3.0"/><circle cx="406.1" cy="513.4" r="3.0"/><circle cx="399.5" cy="502.0" r="3.0"/><circle cx="413.2" cy="484.3" r="3.0"/><circle cx="409.8" cy="483.8" r="3.0"/><circle cx="392.6" cy="469.3" r="3.0"/><circle cx="385.9" cy="481.0" r="3.0"/><circle cx="382.6" cy="432.7" r="3.0"/><circle cx="377.7" cy="459.3" r="3.0"/><circle cx="379.9" cy="471.8" r="3.0"/><circle cx="376.4" cy="474.8" r="3.0"/><circle cx="370.9" cy="469.5" r="3.0"/><circle cx="372.5" cy="483.9" r="3.0"/><circle cx="366.9" cy="442.9" r="3.0"/><circle cx="372.5" cy="504.1" r="3.0"/><circle cx="370.9" cy="500.7" r="3.0"/><circle cx="370.9" cy="495.3" r="3.0"/><circle cx="365.4" cy="493.8" r="3.0"/><circle cx="366.1" cy="506.8" r="3.0"/><circle cx="360.9" cy="498.2" r="3.0"/><circle cx="358.2" cy="505.4" r="3.0"/><circle cx="356.7" cy="503.0" r="3.0"/><circle cx="354.3" cy="504.3" r="3.0"/><circle cx="348.1" cy="498.1" r="3.0"/><circle cx="353.9" cy="478.8" r="3.0"/><circle cx="349.7" cy="471.8" r="3.0"/><circle cx="346.1" cy="469.0" r="3.0"/><circle cx="354.3" cy="431.2" r="3.0"/><circle cx="351.1" cy="432.7" r="3.0"/><circle cx="348.9" cy="418.8" r="3.0"/><circle cx="343.6" cy="514.8" r="3.0"/><circle cx="343.2" cy="513.3" r="3.0"/><circle cx="340.2" cy="509.3" r="3.0"/><circle cx="340.2" cy="506.2" r="3.0"/><circle cx="342.8" cy="504.0" r="3.0"/><circle cx="333.9" cy="504.1" r="3.0"/><circle cx="341.0" cy="484.6" r="3.0"/><circle cx="336.2" cy="479.3" r="3.0"/><circle cx="332.5" cy="515.7" r="3.0"/><circle cx="328.1" cy="512.3" r="3.0"/><circle cx="323.8" cy="509.3" r="3.0"/><circle cx="328.8" cy="496.4" r="3.0"/><circle cx="326.8" cy="490.9" r="3.0"/><circle cx="331.2" cy="486.7" r="3.0"/><circle cx="322.0" cy="485.1" r="3.0"/><circle cx="322.0" cy="448.4" r="3.0"/><circle cx="321.5" cy="515.0" r="3.0"/><circle cx="319.9" cy="503.4" r="3.0"/><circle cx="321.5" cy="496.6" r="3.0"/><circle cx="324.7" cy="522.3" r="3.0"/><circle cx="324.7" cy="521.4" r="3.0"/><circle cx="326.4" cy="521.0" r="3.0"/><circle cx="323.8" cy="518.7" r="3.0"/><circle cx="321.0" cy="517.7" r="3.0"/><circle cx="315.1" cy="512.1" r="3.0"/><circle cx="313.2" cy="509.0" r="3.0"/><circle cx="313.5" cy="521.7" r="3.0"/><circle cx="307.2" cy="522.2" r="3.0"/><circle cx="306.1" cy="522.1" r="3.0"/><circle cx="306.9" cy="521.2" r="3.0"/><circle cx="310.0" cy="520.2" r="3.0"/><circle cx="306.4" cy="519.2" r="3.0"/><circle cx="311.1" cy="518.1" r="3.0"/><circle cx="307.4" cy="517.5" r="3.0"/><circle cx="300.0" cy="511.5" r="3.0"/><circle cx="289.8" cy="522.1" r="3.0"/><circle cx="293.1" cy="522.1" r="3.0"/><circle cx="291.1" cy="521.8" r="3.0"/><circle cx="294.5" cy="519.2" r="3.0"/><circle cx="289.0" cy="520.3" r="3.0"/><circle cx="281.6" cy="519.8" r="3.0"/><circle cx="270.9" cy="521.7" r="3.0"/><circle cx="271.4" cy="518.3" r="3.0"/><circle cx="268.9" cy="516.1" r="3.0"/><circle cx="274.6" cy="506.2" r="3.0"/><circle cx="264.0" cy="522.1" r="3.0"/><circle cx="263.0" cy="518.5" r="3.0"/><circle cx="262.7" cy="507.4" r="3.0"/><circle cx="260.6" cy="522.2" r="3.0"/><circle cx="260.6" cy="522.1" r="3.0"/><circle cx="257.5" cy="521.6" r="3.0"/><circle cx="253.5" cy="519.1" r="3.0"/><circle cx="252.4" cy="513.4" r="3.0"/><circle cx="247.2" cy="520.9" r="3.0"/><circle cx="249.3" cy="522.0" r="3.0"/><circle cx="246.1" cy="522.2" r="3.0"/><circle cx="308.8" cy="498.1" r="3.0"/><circle cx="302.4" cy="502.3" r="3.0"/><circle cx="301.6" cy="495.4" r="3.0"/><circle cx="298.2" cy="495.7" r="3.0"/><circle cx="304.0" cy="485.4" r="3.0"/><circle cx="278.4" cy="499.2" r="3.0"/><circle cx="271.8" cy="501.9" r="3.0"/><circle cx="271.0" cy="485.7" r="3.0"/><circle cx="330.2" cy="515.5" r="3.0"/><circle cx="363.3" cy="500.5" r="3.0"/>
<circle cx="391.5" cy="543.8" r="3.0"/><circle cx="344.8" cy="546.7" r="3.0"/><circle cx="406.1" cy="548.9" r="3.0"/><circle cx="399.5" cy="560.3" r="3.0"/><circle cx="413.2" cy="578.0" r="3.0"/><circle cx="409.8" cy="578.5" r="3.0"/><circle cx="392.6" cy="593.0" r="3.0"/><circle cx="385.9" cy="581.3" r="3.0"/><circle cx="382.6" cy="629.6" r="3.0"/><circle cx="377.7" cy="603.0" r="3.0"/><circle cx="379.9" cy="590.5" r="3.0"/><circle cx="376.4" cy="587.5" r="3.0"/><circle cx="370.9" cy="592.8" r="3.0"/><circle cx="372.5" cy="578.4" r="3.0"/><circle cx="366.9" cy="619.4" r="3.0"/><circle cx="372.5" cy="558.2" r="3.0"/><circle cx="370.9" cy="561.6" r="3.0"/><circle cx="370.9" cy="567.0" r="3.0"/><circle cx="365.4" cy="568.5" r="3.0"/><circle cx="366.1" cy="555.5" r="3.0"/><circle cx="360.9" cy="564.1" r="3.0"/><circle cx="358.2" cy="556.9" r="3.0"/><circle cx="356.7" cy="559.3" r="3.0"/><circle cx="354.3" cy="558.0" r="3.0"/><circle cx="348.1" cy="564.2" r="3.0"/><circle cx="353.9" cy="583.5" r="3.0"/><circle cx="349.7" cy="590.5" r="3.0"/><circle cx="346.1" cy="593.3" r="3.0"/><circle cx="354.3" cy="631.1" r="3.0"/><circle cx="351.1" cy="629.6" r="3.0"/><circle cx="348.9" cy="643.5" r="3.0"/><circle cx="343.6" cy="547.5" r="3.0"/><circle cx="343.2" cy="549.0" r="3.0"/><circle cx="340.2" cy="553.0" r="3.0"/><circle cx="340.2" cy="556.1" r="3.0"/><circle cx="342.8" cy="558.3" r="3.0"/><circle cx="333.9" cy="558.2" r="3.0"/><circle cx="341.0" cy="577.7" r="3.0"/><circle cx="336.2" cy="583.0" r="3.0"/><circle cx="332.5" cy="546.6" r="3.0"/><circle cx="328.1" cy="550.0" r="3.0"/><circle cx="323.8" cy="553.0" r="3.0"/><circle cx="328.8" cy="565.9" r="3.0"/><circle cx="326.8" cy="571.4" r="3.0"/><circle cx="331.2" cy="575.6" r="3.0"/><circle cx="322.0" cy="577.2" r="3.0"/><circle cx="322.0" cy="613.9" r="3.0"/><circle cx="321.5" cy="547.3" r="3.0"/><circle cx="319.9" cy="558.9" r="3.0"/><circle cx="321.5" cy="565.7" r="3.0"/><circle cx="324.7" cy="540.0" r="3.0"/><circle cx="324.7" cy="540.9" r="3.0"/><circle cx="326.4" cy="541.3" r="3.0"/><circle cx="323.8" cy="543.6" r="3.0"/><circle cx="321.0" cy="544.6" r="3.0"/><circle cx="315.1" cy="550.2" r="3.0"/><circle cx="313.2" cy="553.3" r="3.0"/><circle cx="313.5" cy="540.6" r="3.0"/><circle cx="307.2" cy="540.1" r="3.0"/><circle cx="306.1" cy="540.2" r="3.0"/><circle cx="306.9" cy="541.1" r="3.0"/><circle cx="310.0" cy="542.1" r="3.0"/><circle cx="306.4" cy="543.1" r="3.0"/><circle cx="311.1" cy="544.2" r="3.0"/><circle cx="307.4" cy="544.8" r="3.0"/><circle cx="300.0" cy="550.8" r="3.0"/><circle cx="289.8" cy="540.2" r="3.0"/><circle cx="293.1" cy="540.2" r="3.0"/><circle cx="291.1" cy="540.5" r="3.0"/><circle cx="294.5" cy="543.1" r="3.0"/><circle cx="289.0" cy="542.0" r="3.0"/><circle cx="281.6" cy="542.5" r="3.0"/><circle cx="270.9" cy="540.6" r="3.0"/><circle cx="271.4" cy="544.0" r="3.0"/><circle cx="268.9" cy="546.2" r="3.0"/><circle cx="274.6" cy="556.1" r="3.0"/><circle cx="264.0" cy="540.2" r="3.0"/><circle cx="263.0" cy="543.8" r="3.0"/><circle cx="262.7" cy="554.9" r="3.0"/><circle cx="260.6" cy="540.1" r="3.0"/><circle cx="260.6" cy="540.2" r="3.0"/><circle cx="257.5" cy="540.7" r="3.0"/><circle cx="253.5" cy="543.2" r="3.0"/><circle cx="252.4" cy="548.9" r="3.0"/><circle cx="247.2" cy="541.4" r="3.0"/><circle cx="249.3" cy="540.3" r="3.0"/><circle cx="246.1" cy="540.1" r="3.0"/><circle cx="308.8" cy="564.2" r="3.0"/><circle cx="302.4" cy="560.0" r="3.0"/><circle cx="301.6" cy="566.9" r="3.0"/><circle cx="298.2" cy="566.6" r="3.0"/><circle cx="304.0" cy="576.9" r="3.0"/><circle cx="278.4" cy="563.1" r="3.0"/><circle cx="271.8" cy="560.4" r="3.0"/><circle cx="271.0" cy="576.6" r="3.0"/><circle cx="330.2" cy="546.8" r="3.0"/><circle cx="363.3" cy="561.8" r="3.0"/>
<circle cx="604.6" cy="506.7" r="3.0"/><circle cx="594.6" cy="519.1" r="3.0"/><circle cx="580.3" cy="517.8" r="3.0"/><circle cx="576.6" cy="515.6" r="3.0"/><circle cx="578.7" cy="508.8" r="3.0"/><circle cx="574.4" cy="522.1" r="3.0"/><circle cx="571.9" cy="521.8" r="3.0"/><circle cx="566.8" cy="513.4" r="3.0"/><circle cx="561.6" cy="512.0" r="3.0"/><circle cx="560.5" cy="519.1" r="3.0"/><circle cx="552.2" cy="515.6" r="3.0"/><circle cx="550.6" cy="520.9" r="3.0"/><circle cx="551.0" cy="521.4" r="3.0"/><circle cx="550.1" cy="521.0" r="3.0"/><circle cx="548.5" cy="518.2" r="3.0"/><circle cx="540.9" cy="518.3" r="3.0"/><circle cx="544.2" cy="519.8" r="3.0"/><circle cx="551.8" cy="513.4" r="3.0"/><circle cx="545.8" cy="513.3" r="3.0"/><circle cx="532.7" cy="518.5" r="3.0"/><circle cx="535.1" cy="522.0" r="3.0"/><circle cx="535.5" cy="522.2" r="3.0"/><circle cx="531.3" cy="522.2" r="3.0"/><circle cx="534.3" cy="522.1" r="3.0"/><circle cx="535.9" cy="521.6" r="3.0"/><circle cx="529.6" cy="521.7" r="3.0"/><circle cx="520.9" cy="521.7" r="3.0"/><circle cx="534.3" cy="512.2" r="3.0"/><circle cx="527.5" cy="517.5" r="3.0"/><circle cx="526.4" cy="515.0" r="3.0"/><circle cx="520.9" cy="509.4" r="3.0"/><circle cx="522.4" cy="522.2" r="3.0"/><circle cx="512.7" cy="522.3" r="3.0"/><circle cx="597.3" cy="493.9" r="3.0"/><circle cx="588.9" cy="486.8" r="3.0"/><circle cx="585.5" cy="484.3" r="3.0"/><circle cx="579.1" cy="484.7" r="3.0"/><circle cx="573.6" cy="483.8" r="3.0"/><circle cx="570.8" cy="471.7" r="3.0"/><circle cx="559.7" cy="469.2" r="3.0"/><circle cx="560.2" cy="503.7" r="3.0"/><circle cx="557.3" cy="496.2" r="3.0"/><circle cx="556.4" cy="485.7" r="3.0"/><circle cx="552.9" cy="479.2" r="3.0"/><circle cx="548.2" cy="490.9" r="3.0"/><circle cx="551.8" cy="504.8" r="3.0"/><circle cx="551.8" cy="501.9" r="3.0"/><circle cx="547.6" cy="507.5" r="3.0"/><circle cx="551.8" cy="498.0" r="3.0"/><circle cx="548.5" cy="499.8" r="3.0"/><circle cx="543.8" cy="504.5" r="3.0"/><circle cx="541.4" cy="502.2" r="3.0"/><circle cx="535.1" cy="504.1" r="3.0"/><circle cx="535.9" cy="498.0" r="3.0"/><circle cx="528.0" cy="496.5" r="3.0"/><circle cx="523.3" cy="499.2" r="3.0"/><circle cx="539.5" cy="471.7" r="3.0"/><circle cx="526.1" cy="459.3" r="3.0"/><circle cx="523.7" cy="484.0" r="3.0"/><circle cx="524.3" cy="479.7" r="3.0"/><circle cx="517.7" cy="474.8" r="3.0"/><circle cx="520.3" cy="419.1" r="3.0"/><circle cx="517.2" cy="433.0" r="3.0"/><circle cx="508.8" cy="430.8" r="3.0"/><circle cx="512.4" cy="504.2" r="3.0"/><circle cx="507.2" cy="520.2" r="3.0"/><circle cx="504.6" cy="521.2" r="3.0"/><circle cx="503.0" cy="516.1" r="3.0"/><circle cx="499.0" cy="522.0" r="3.0"/><circle cx="502.5" cy="522.1" r="3.0"/><circle cx="495.4" cy="522.1" r="3.0"/><circle cx="494.1" cy="519.2" r="3.0"/><circle cx="495.9" cy="518.6" r="3.0"/><circle cx="496.9" cy="509.2" r="3.0"/><circle cx="496.9" cy="506.3" r="3.0"/><circle cx="483.1" cy="520.2" r="3.0"/><circle cx="484.6" cy="515.8" r="3.0"/><circle cx="479.6" cy="511.5" r="3.0"/><circle cx="485.1" cy="506.2" r="3.0"/><circle cx="468.4" cy="518.5" r="3.0"/><circle cx="455.0" cy="509.4" r="3.0"/><circle cx="437.1" cy="514.9" r="3.0"/><circle cx="506.4" cy="502.2" r="3.0"/><circle cx="506.4" cy="498.0" r="3.0"/><circle cx="499.3" cy="495.4" r="3.0"/><circle cx="491.0" cy="495.4" r="3.0"/><circle cx="489.9" cy="499.8" r="3.0"/><circle cx="484.3" cy="501.9" r="3.0"/><circle cx="499.8" cy="485.4" r="3.0"/><circle cx="500.4" cy="481.0" r="3.0"/><circle cx="488.8" cy="469.5" r="3.0"/><circle cx="495.4" cy="448.0" r="3.0"/><circle cx="490.6" cy="442.5" r="3.0"/><circle cx="490.9" cy="431.8" r="3.0"/><circle cx="470.5" cy="485.4" r="3.0"/><circle cx="458.1" cy="469.2" r="3.0"/><circle cx="446.0" cy="479.0" r="3.0"/>
<circle cx="604.6" cy="555.6" r="3.0"/><circle cx="594.6" cy="543.2" r="3.0"/><circle cx="580.3" cy="544.5" r="3.0"/><circle cx="576.6" cy="546.7" r="3.0"/><circle cx="578.7" cy="553.5" r="3.0"/><circle cx="574.4" cy="540.2" r="3.0"/><circle cx="571.9" cy="540.5" r="3.0"/><circle cx="566.8" cy="548.9" r="3.0"/><circle cx="561.6" cy="550.3" r="3.0"/><circle cx="560.5" cy="543.2" r="3.0"/><circle cx="552.2" cy="546.7" r="3.0"/><circle cx="550.6" cy="541.4" r="3.0"/><circle cx="551.0" cy="540.9" r="3.0"/><circle cx="550.1" cy="541.3" r="3.0"/><circle cx="548.5" cy="544.1" r="3.0"/><circle cx="540.9" cy="544.0" r="3.0"/><circle cx="544.2" cy="542.5" r="3.0"/><circle cx="551.8" cy="548.9" r="3.0"/><circle cx="545.8" cy="549.0" r="3.0"/><circle cx="532.7" cy="543.8" r="3.0"/><circle cx="535.1" cy="540.3" r="3.0"/><circle cx="535.5" cy="540.1" r="3.0"/><circle cx="531.3" cy="540.1" r="3.0"/><circle cx="534.3" cy="540.2" r="3.0"/><circle cx="535.9" cy="540.7" r="3.0"/><circle cx="529.6" cy="540.6" r="3.0"/><circle cx="520.9" cy="540.6" r="3.0"/><circle cx="534.3" cy="550.1" r="3.0"/><circle cx="527.5" cy="544.8" r="3.0"/><circle cx="526.4" cy="547.3" r="3.0"/><circle cx="520.9" cy="552.9" r="3.0"/><circle cx="522.4" cy="540.1" r="3.0"/><circle cx="512.7" cy="540.0" r="3.0"/><circle cx="597.3" cy="568.4" r="3.0"/><circle cx="588.9" cy="575.5" r="3.0"/><circle cx="585.5" cy="578.0" r="3.0"/><circle cx="579.1" cy="577.6" r="3.0"/><circle cx="573.6" cy="578.5" r="3.0"/><circle cx="570.8" cy="590.6" r="3.0"/><circle cx="559.7" cy="593.1" r="3.0"/><circle cx="560.2" cy="558.6" r="3.0"/><circle cx="557.3" cy="566.1" r="3.0"/><circle cx="556.4" cy="576.6" r="3.0"/><circle cx="552.9" cy="583.1" r="3.0"/><circle cx="548.2" cy="571.4" r="3.0"/><circle cx="551.8" cy="557.5" r="3.0"/><circle cx="551.8" cy="560.4" r="3.0"/><circle cx="547.6" cy="554.8" r="3.0"/><circle cx="551.8" cy="564.3" r="3.0"/><circle cx="548.5" cy="562.5" r="3.0"/><circle cx="543.8" cy="557.8" r="3.0"/><circle cx="541.4" cy="560.1" r="3.0"/><circle cx="535.1" cy="558.2" r="3.0"/><circle cx="535.9" cy="564.3" r="3.0"/><circle cx="528.0" cy="565.8" r="3.0"/><circle cx="523.3" cy="563.1" r="3.0"/><circle cx="539.5" cy="590.6" r="3.0"/><circle cx="526.1" cy="603.0" r="3.0"/><circle cx="523.7" cy="578.3" r="3.0"/><circle cx="524.3" cy="582.6" r="3.0"/><circle cx="517.7" cy="587.5" r="3.0"/><circle cx="520.3" cy="643.2" r="3.0"/><circle cx="517.2" cy="629.3" r="3.0"/><circle cx="508.8" cy="631.5" r="3.0"/><circle cx="512.4" cy="558.1" r="3.0"/><circle cx="507.2" cy="542.1" r="3.0"/><circle cx="504.6" cy="541.1" r="3.0"/><circle cx="503.0" cy="546.2" r="3.0"/><circle cx="499.0" cy="540.3" r="3.0"/><circle cx="502.5" cy="540.2" r="3.0"/><circle cx="495.4" cy="540.2" r="3.0"/><circle cx="494.1" cy="543.1" r="3.0"/><circle cx="495.9" cy="543.7" r="3.0"/><circle cx="496.9" cy="553.1" r="3.0"/><circle cx="496.9" cy="556.0" r="3.0"/><circle cx="483.1" cy="542.1" r="3.0"/><circle cx="484.6" cy="546.5" r="3.0"/><circle cx="479.6" cy="550.8" r="3.0"/><circle cx="485.1" cy="556.1" r="3.0"/><circle cx="468.4" cy="543.8" r="3.0"/><circle cx="455.0" cy="552.9" r="3.0"/><circle cx="437.1" cy="547.4" r="3.0"/><circle cx="506.4" cy="560.1" r="3.0"/><circle cx="506.4" cy="564.3" r="3.0"/><circle cx="499.3" cy="566.9" r="3.0"/><circle cx="491.0" cy="566.9" r="3.0"/><circle cx="489.9" cy="562.5" r="3.0"/><circle cx="484.3" cy="560.4" r="3.0"/><circle cx="499.8" cy="576.9" r="3.0"/><circle cx="500.4" cy="581.3" r="3.0"/><circle cx="488.8" cy="592.8" r="3.0"/><circle cx="495.4" cy="614.3" r="3.0"/><circle cx="490.6" cy="619.8" r="3.0"/><circle cx="490.9" cy="630.5" r="3.0"/><circle cx="470.5" cy="576.9" r="3.0"/><circle cx="458.1" cy="593.1" r="3.0"/><circle cx="446.0" cy="583.3" r="3.0"/>
<circle cx="634.8" cy="543.8" r="3.0"/><circle cx="639.4" cy="546.7" r="3.0"/><circle cx="643.0" cy="548.9" r="3.0"/><circle cx="661.4" cy="560.3" r="3.0"/><circle cx="690.1" cy="578.0" r="3.0"/><circle cx="690.9" cy="578.5" r="3.0"/><circle cx="714.3" cy="593.0" r="3.0"/><circle cx="695.4" cy="581.3" r="3.0"/><circle cx="773.6" cy="629.6" r="3.0"/><circle cx="730.4" cy="603.0" r="3.0"/><circle cx="710.2" cy="590.5" r="3.0"/><circle cx="705.4" cy="587.5" r="3.0"/><circle cx="714.0" cy="592.8" r="3.0"/><circle cx="690.7" cy="578.4" r="3.0"/><circle cx="757.0" cy="619.4" r="3.0"/><circle cx="658.0" cy="558.2" r="3.0"/><circle cx="663.6" cy="561.6" r="3.0"/><circle cx="672.3" cy="567.0" r="3.0"/><circle cx="674.8" cy="568.5" r="3.0"/><circle cx="653.7" cy="555.5" r="3.0"/><circle cx="667.6" cy="564.1" r="3.0"/><circle cx="656.0" cy="556.9" r="3.0"/><circle cx="659.8" cy="559.3" r="3.0"/><circle cx="657.7" cy="558.0" r="3.0"/><circle cx="667.8" cy="564.2" r="3.0"/><circle cx="698.9" cy="583.5" r="3.0"/><circle cx="710.2" cy="590.5" r="3.0"/><circle cx="714.8" cy="593.3" r="3.0"/><circle cx="775.9" cy="631.1" r="3.0"/><circle cx="773.6" cy="629.6" r="3.0"/><circle cx="796.1" cy="643.5" r="3.0"/><circle cx="640.7" cy="547.5" r="3.0"/><circle cx="643.2" cy="549.0" r="3.0"/><circle cx="649.6" cy="553.0" r="3.0"/><circle cx="654.7" cy="556.1" r="3.0"/><circle cx="658.2" cy="558.3" r="3.0"/><circle cx="658.0" cy="558.2" r="3.0"/><circle cx="689.7" cy="577.7" r="3.0"/><circle cx="698.1" cy="583.0" r="3.0"/><circle cx="639.3" cy="546.6" r="3.0"/><circle cx="644.7" cy="550.0" r="3.0"/><circle cx="649.6" cy="553.0" r="3.0"/><circle cx="670.5" cy="565.9" r="3.0"/><circle cx="679.4" cy="571.4" r="3.0"/><circle cx="686.2" cy="575.6" r="3.0"/><circle cx="688.7" cy="577.2" r="3.0"/><circle cx="748.2" cy="613.9" r="3.0"/><circle cx="640.4" cy="547.3" r="3.0"/><circle cx="659.1" cy="558.9" r="3.0"/><circle cx="670.2" cy="565.7" r="3.0"/><circle cx="628.6" cy="540.0" r="3.0"/><circle cx="630.1" cy="540.9" r="3.0"/><circle cx="630.7" cy="541.3" r="3.0"/><circle cx="634.4" cy="543.6" r="3.0"/><circle cx="636.0" cy="544.6" r="3.0"/><circle cx="645.1" cy="550.2" r="3.0"/><circle cx="650.2" cy="553.3" r="3.0"/><circle cx="629.6" cy="540.6" r="3.0"/><circle cx="628.7" cy="540.1" r="3.0"/><circle cx="629.0" cy="540.2" r="3.0"/><circle cx="630.3" cy="541.1" r="3.0"/><circle cx="632.0" cy="542.1" r="3.0"/><circle cx="633.7" cy="543.1" r="3.0"/><circle cx="635.4" cy="544.2" r="3.0"/><circle cx="636.3" cy="544.8" r="3.0"/><circle cx="646.1" cy="550.8" r="3.0"/><circle cx="628.9" cy="540.2" r="3.0"/><circle cx="628.9" cy="540.2" r="3.0"/><circle cx="629.4" cy="540.5" r="3.0"/><circle cx="633.6" cy="543.1" r="3.0"/><circle cx="631.9" cy="542.0" r="3.0"/><circle cx="632.6" cy="542.5" r="3.0"/><circle cx="629.5" cy="540.6" r="3.0"/><circle cx="635.1" cy="544.0" r="3.0"/><circle cx="638.6" cy="546.2" r="3.0"/><circle cx="654.6" cy="556.1" r="3.0"/><circle cx="629.0" cy="540.2" r="3.0"/><circle cx="634.8" cy="543.8" r="3.0"/><circle cx="652.7" cy="554.9" r="3.0"/><circle cx="628.7" cy="540.1" r="3.0"/><circle cx="628.9" cy="540.2" r="3.0"/><circle cx="629.7" cy="540.7" r="3.0"/><circle cx="633.8" cy="543.2" r="3.0"/><circle cx="643.0" cy="548.9" r="3.0"/><circle cx="630.9" cy="541.4" r="3.0"/><circle cx="629.1" cy="540.3" r="3.0"/><circle cx="628.8" cy="540.1" r="3.0"/><circle cx="667.7" cy="564.2" r="3.0"/><circle cx="660.9" cy="560.0" r="3.0"/><circle cx="672.1" cy="566.9" r="3.0"/><circle cx="671.7" cy="566.6" r="3.0"/><circle cx="688.3" cy="576.9" r="3.0"/><circle cx="666.0" cy="563.1" r="3.0"/><circle cx="661.6" cy="560.4" r="3.0"/><circle cx="687.8" cy="576.6" r="3.0"/><circle cx="639.6" cy="546.8" r="3.0"/><circle cx="663.8" cy="561.8" r="3.0"/>
</g>
</svg>
</body></html>
